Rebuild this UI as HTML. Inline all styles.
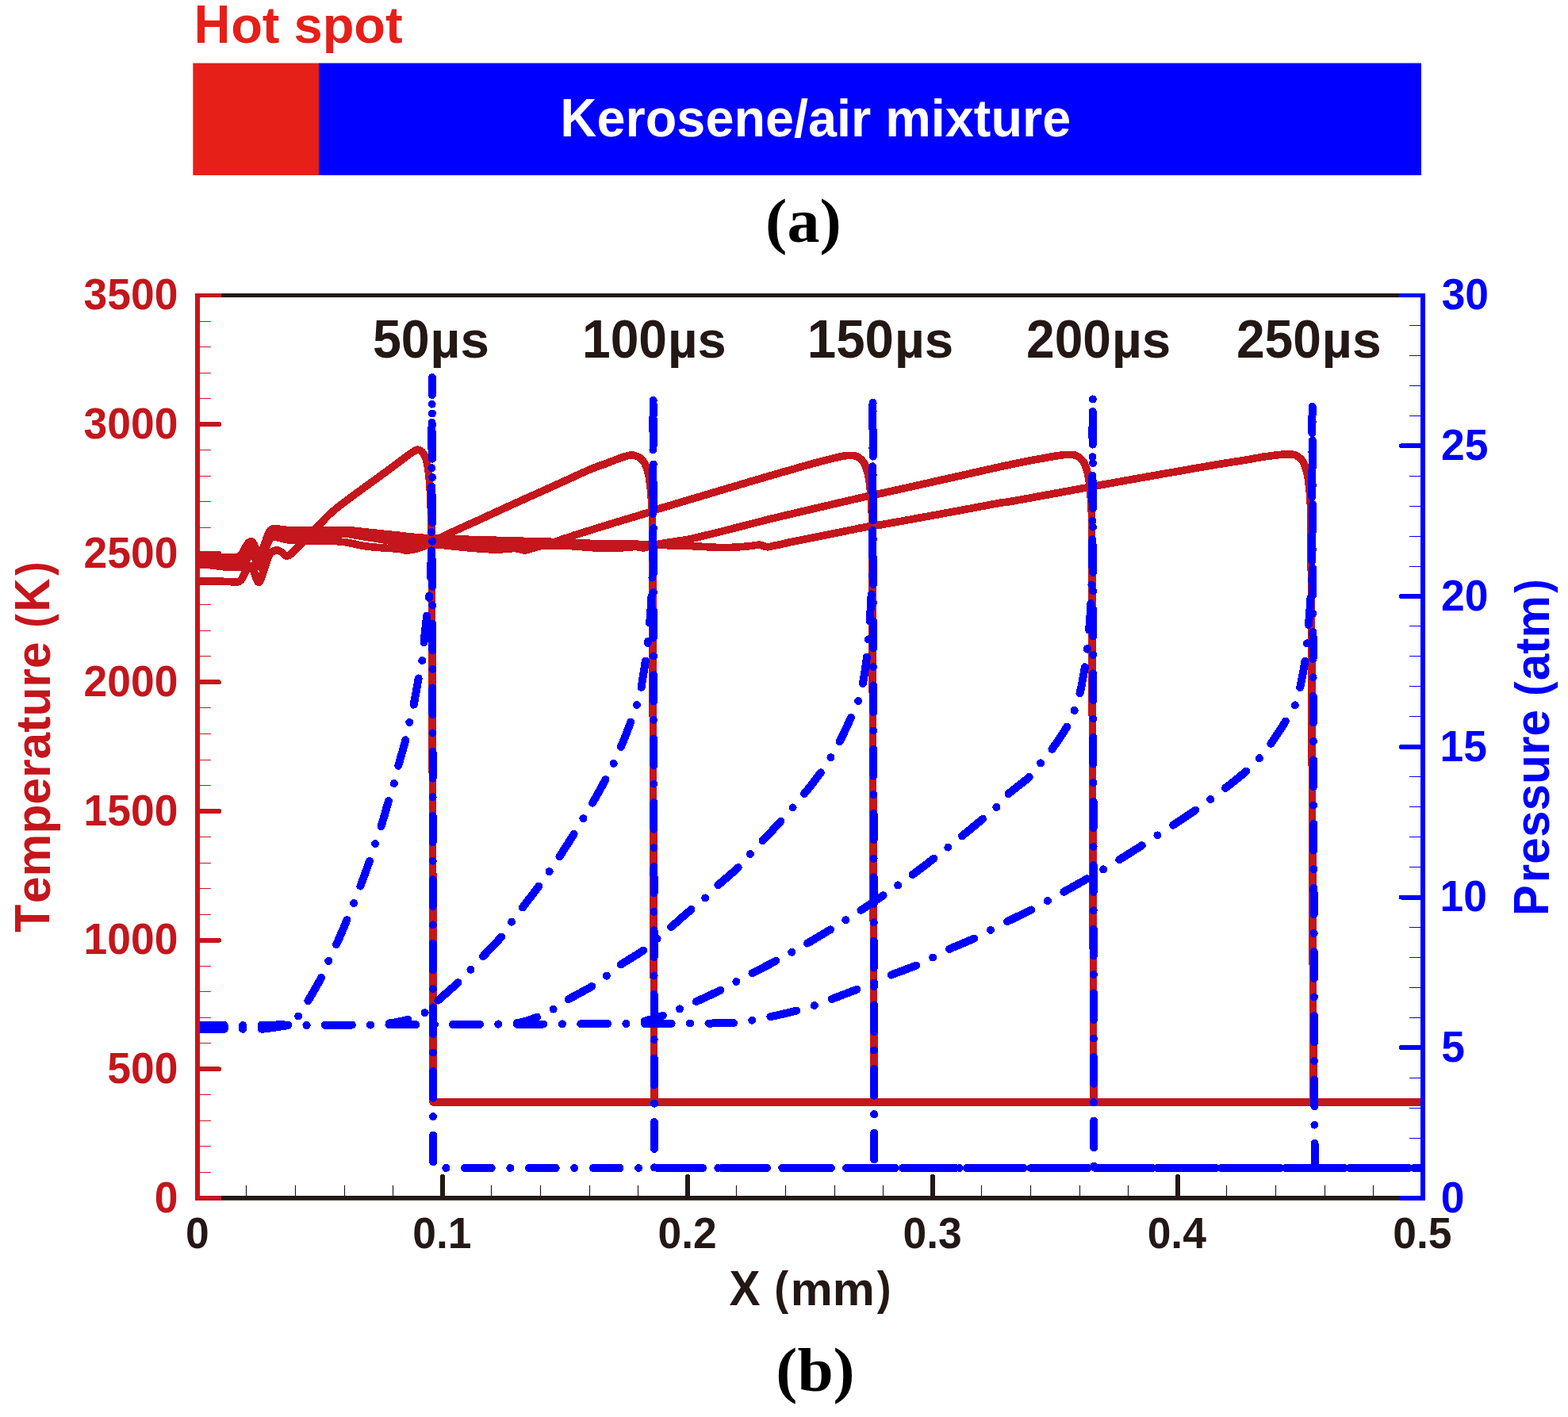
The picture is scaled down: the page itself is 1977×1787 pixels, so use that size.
<!DOCTYPE html>
<html lang="en">
<head>
<meta charset="utf-8">
<title>Hot spot ignition of kerosene/air mixture</title>
<style>
html,body{margin:0;padding:0;background:#fff;}
body{width:1977px;height:1787px;overflow:hidden;}
svg{display:block;}
text{font-kerning:none;white-space:pre;}
</style>
</head>
<body>
<svg width="1977" height="1787" viewBox="0 0 1977 1787">
<rect width="1977" height="1787" fill="#ffffff"/>
<svg x="249.0" y="372.6" width="1545.0" height="1138.3" viewBox="249.0 372.6 1545.0 1138.3" overflow="hidden">
<g shape-rendering="crispEdges" fill="none" stroke="#c4161c" stroke-width="9.6" stroke-linejoin="round" stroke-linecap="butt">
<path d="M249.0,733.0 L250.7,733.0 L252.9,733.0 L255.6,733.0 L258.6,733.0 L261.6,733.0 L264.7,733.0 L267.5,733.0 L270.0,733.0 L272.2,733.0 L274.3,733.1 L276.2,733.1 L278.1,733.2 L279.9,733.2 L281.7,733.3 L283.4,733.3 L285.0,733.4 L286.6,733.5 L288.2,733.5 L289.7,733.6 L291.1,733.7 L292.5,733.8 L293.8,733.8 L294.9,733.9 L296.0,733.9 L296.9,733.9 L297.7,733.9 L298.4,734.0 L298.9,733.9 L299.5,733.9 L300.0,733.8 L300.5,733.7 L301.0,733.5 L301.5,733.2 L302.1,732.9 L302.6,732.6 L303.1,732.2 L303.5,731.8 L304.0,731.3 L304.5,730.7 L305.0,730.0 L305.5,729.2 L306.0,728.3 L306.5,727.3 L307.0,726.2 L307.5,725.1 L308.0,724.0 L308.5,723.0 L309.0,722.0 L309.5,721.1 L309.9,720.2 L310.4,719.2 L310.8,718.4 L311.3,717.5 L311.7,716.8 L312.1,716.1 L312.5,715.5 L312.9,715.0 L313.2,714.6 L313.6,714.3 L313.9,714.1 L314.2,713.9 L314.5,713.8 L314.9,713.8 L315.2,713.8 L315.5,713.9 L315.9,714.0 L316.2,714.1 L316.6,714.4 L316.9,714.7 L317.3,715.0 L317.6,715.5 L318.0,716.0 L318.4,716.6 L318.7,717.4 L319.1,718.2 L319.5,719.1 L319.9,720.1 L320.3,721.1 L320.6,722.0 L321.0,723.0 L321.4,724.0 L321.7,725.0 L322.1,726.1 L322.4,727.2 L322.8,728.3 L323.1,729.3 L323.5,730.2 L323.8,731.0 L324.1,731.7 L324.4,732.3 L324.7,732.9 L325.0,733.4 L325.3,733.8 L325.6,734.1 L325.9,734.3 L326.2,734.4 L326.5,734.4 L326.8,734.2 L327.1,733.9 L327.3,733.5 L327.6,733.0 L327.9,732.5 L328.1,732.0 L328.4,731.5 L328.6,731.0 L328.9,730.5 L329.1,729.9 L329.3,729.3 L329.5,728.7 L329.7,728.0 L330.0,727.3 L330.2,726.6 L330.5,725.8 L330.7,725.0 L331.0,724.1 L331.3,723.2 L331.6,722.3 L331.9,721.3 L332.2,720.4 L332.5,719.5 L332.8,718.6 L333.1,717.7 L333.4,716.8 L333.7,715.9 L334.0,715.0 L334.3,714.1 L334.6,713.2 L334.9,712.3 L335.2,711.4 L335.5,710.5 L335.8,709.6 L336.1,708.7 L336.4,707.8 L336.7,706.9 L337.0,706.0 L337.3,705.2 L337.6,704.4 L337.9,703.6 L338.2,702.9 L338.6,702.1 L338.9,701.4 L339.2,700.8 L339.6,700.1 L340.0,699.5 L340.4,698.9 L340.9,698.3 L341.3,697.8 L341.8,697.3 L342.3,696.8 L342.9,696.4 L343.4,696.0 L344.0,695.6 L344.6,695.3 L345.3,694.9 L346.0,694.7 L346.7,694.4 L347.4,694.2 L348.1,694.1 L348.8,694.0 L349.5,694.0 L350.2,694.1 L350.9,694.3 L351.7,694.5 L352.4,694.9 L353.1,695.2 L353.8,695.6 L354.4,696.0 L355.0,696.3 L355.5,696.6 L356.0,697.0 L356.5,697.4 L356.9,697.8 L357.3,698.2 L357.7,698.6 L358.1,699.0 L358.5,699.3 L358.9,699.6 L359.3,699.9 L359.6,700.2 L359.9,700.5 L360.3,700.7 L360.6,700.9 L361.0,701.0 L361.4,701.1 L361.8,701.1 L362.2,701.1 L362.6,701.0 L363.1,700.9 L363.5,700.8 L364.0,700.6 L364.5,700.3 L365.0,700.0 L365.5,699.6 L366.0,699.2 L366.6,698.8 L367.1,698.3 L367.7,697.7 L368.4,697.1 L369.1,696.4 L370.0,695.5 L370.9,694.6 L371.9,693.6 L372.9,692.6 L374.1,691.5 L375.3,690.2 L376.7,688.8 L378.2,687.2 L380.0,685.4 L382.0,683.3 L384.3,680.9 L386.8,678.3 L389.4,675.6 L392.1,672.7 L394.8,669.9 L397.4,667.1 L400.0,664.5 L402.5,661.9 L405.0,659.4 L407.5,656.8 L410.0,654.2 L412.5,651.7 L415.0,649.2 L417.5,646.9 L420.0,644.6 L422.5,642.4 L425.0,640.4 L427.5,638.4 L430.0,636.5 L432.5,634.6 L435.0,632.7 L437.5,630.9 L440.0,629.0 L442.5,627.1 L445.0,625.3 L447.5,623.4 L450.0,621.6 L452.5,619.8 L455.0,617.9 L457.5,616.1 L460.0,614.3 L462.5,612.5 L465.0,610.7 L467.5,608.9 L470.0,607.1 L472.5,605.3 L475.0,603.4 L477.5,601.6 L480.0,599.8 L482.6,597.9 L485.2,596.0 L487.9,594.0 L490.5,592.1 L493.1,590.1 L495.6,588.3 L497.9,586.6 L500.0,585.0 L501.9,583.6 L503.7,582.2 L505.3,581.0 L506.8,579.9 L508.2,578.8 L509.5,577.8 L510.8,576.9 L512.0,576.0 L513.1,575.2 L514.2,574.4 L515.1,573.7 L516.0,573.1 L516.8,572.5 L517.6,572.0 L518.3,571.5 L519.0,571.0 L519.6,570.6 L520.2,570.1 L520.7,569.8 L521.2,569.5 L521.7,569.2 L522.1,568.9 L522.5,568.6 L523.0,568.4 L523.5,568.2 L523.9,567.9 L524.3,567.8 L524.7,567.6 L525.1,567.4 L525.5,567.3 L526.0,567.2 L526.4,567.2 L526.8,567.2 L527.3,567.2 L527.7,567.3 L528.2,567.4 L528.7,567.6 L529.1,567.7 L529.6,568.0 L530.0,568.2 L530.4,568.5 L530.9,568.8 L531.3,569.2 L531.8,569.5 L532.2,570.0 L532.6,570.4 L533.0,570.9 L533.4,571.4 L533.8,571.9 L534.2,572.5 L534.5,573.1 L534.9,573.7 L535.2,574.3 L535.6,575.0 L535.9,575.7 L536.2,576.5 L536.5,577.3 L536.8,578.1 L537.1,578.9 L537.4,579.8 L537.6,580.8 L537.9,581.8 L538.1,582.8 L538.4,584.0 L538.7,585.3 L538.9,586.6 L539.2,588.1 L539.4,589.6 L539.7,591.2 L539.9,592.8 L540.2,594.4 L540.4,596.0 L540.6,597.6 L540.8,599.3 L541.0,600.9 L541.2,602.6 L541.3,604.4 L541.5,606.2 L541.6,608.0 L541.8,610.0 L541.9,612.0 L542.1,614.1 L542.2,616.3 L542.3,618.5 L542.5,620.8 L542.6,623.1 L542.7,625.5 L542.8,628.0 L542.9,630.5 L543.0,633.0 L543.1,635.6 L543.2,638.2 L543.3,641.0 L543.4,643.8 L543.5,646.8 L543.6,650.0 L543.7,652.8 L543.8,654.8 L543.8,656.7 L543.9,658.9 L544.0,661.8 L544.1,666.0 L544.1,671.9 L544.2,680.0 L544.3,690.1 L544.4,701.8 L544.4,714.9 L544.5,729.4 L544.6,745.2 L544.6,762.3 L544.7,780.6 L544.8,800.0 L544.9,821.2 L544.9,844.4 L545.0,869.1 L545.1,895.0 L545.2,921.5 L545.2,948.1 L545.3,974.5 L545.4,1000.0 L545.5,1025.1 L545.6,1050.4 L545.6,1075.8 L545.7,1101.1 L545.8,1126.3 L545.9,1151.3 L545.9,1175.9 L546.0,1200.0 L546.0,1224.9 L546.1,1251.0 L546.1,1277.6 L546.1,1303.5 L546.2,1327.9 L546.2,1349.7 L546.2,1368.1 L546.2,1382.0 L546.2,1390.0 L1804.0,1390.0"/>
<path d="M249.0,712.0 L250.0,712.0 L251.3,712.0 L252.9,712.0 L254.7,712.0 L256.6,712.1 L258.4,712.1 L260.3,712.2 L262.0,712.3 L263.6,712.5 L265.3,712.6 L267.0,712.9 L268.7,713.1 L270.3,713.4 L272.0,713.6 L273.5,713.8 L275.0,714.0 L276.3,714.2 L277.5,714.3 L278.6,714.4 L279.7,714.6 L280.8,714.7 L282.0,714.8 L283.4,714.8 L285.0,714.9 L286.9,714.9 L289.2,715.0 L291.6,715.0 L294.1,715.0 L296.6,715.0 L298.9,715.0 L300.9,714.9 L302.5,714.9 L303.7,714.9 L304.5,714.9 L305.0,714.9 L305.4,714.9 L305.7,714.9 L305.9,714.8 L306.1,714.6 L306.5,714.4 L306.9,714.1 L307.3,713.7 L307.7,713.2 L308.0,712.7 L308.4,712.2 L308.7,711.6 L309.1,711.0 L309.4,710.3 L309.8,709.6 L310.1,708.8 L310.5,707.9 L310.8,707.0 L311.1,706.1 L311.5,705.3 L311.8,704.4 L312.1,703.7 L312.4,703.0 L312.7,702.3 L313.0,701.7 L313.3,701.0 L313.6,700.5 L313.9,700.0 L314.2,699.5 L314.5,699.1 L314.7,698.8 L315.0,698.5 L315.3,698.3 L315.5,698.1 L315.8,698.0 L316.0,697.9 L316.3,697.9 L316.6,697.9 L316.8,697.9 L317.1,698.0 L317.4,698.1 L317.6,698.2 L317.9,698.4 L318.2,698.6 L318.5,698.9 L318.8,699.2 L319.1,699.6 L319.4,700.0 L319.7,700.5 L320.0,701.0 L320.4,701.6 L320.7,702.2 L321.0,702.8 L321.3,703.4 L321.6,704.1 L321.9,704.9 L322.2,705.7 L322.5,706.6 L322.8,707.4 L323.1,708.2 L323.3,709.0 L323.6,709.7 L323.9,710.3 L324.1,710.8 L324.4,711.4 L324.6,711.9 L324.8,712.4 L325.1,712.8 L325.3,713.2 L325.5,713.5 L325.7,713.8 L325.9,714.1 L326.0,714.3 L326.2,714.4 L326.4,714.6 L326.5,714.7 L326.7,714.7 L326.9,714.7 L327.1,714.7 L327.3,714.7 L327.5,714.6 L327.7,714.5 L327.9,714.3 L328.1,714.0 L328.4,713.6 L328.6,713.0 L328.9,712.2 L329.1,711.3 L329.4,710.2 L329.7,709.0 L330.0,707.7 L330.3,706.4 L330.6,705.1 L331.0,703.9 L331.4,702.7 L331.8,701.4 L332.3,700.1 L332.8,698.8 L333.2,697.5 L333.7,696.3 L334.1,695.1 L334.5,694.0 L334.9,693.0 L335.2,692.0 L335.5,691.1 L335.8,690.2 L336.0,689.4 L336.3,688.5 L336.6,687.7 L336.9,686.9 L337.2,686.1 L337.5,685.3 L337.8,684.4 L338.2,683.7 L338.5,682.9 L338.8,682.2 L339.2,681.5 L339.5,680.9 L339.9,680.4 L340.2,679.9 L340.6,679.4 L340.9,679.0 L341.3,678.7 L341.7,678.3 L342.1,678.1 L342.5,677.8 L342.9,677.6 L343.3,677.4 L343.6,677.3 L344.0,677.2 L344.4,677.1 L344.9,677.1 L345.4,677.1 L346.0,677.1 L346.7,677.2 L347.4,677.3 L348.1,677.5 L349.0,677.6 L349.9,677.9 L350.8,678.1 L351.9,678.3 L353.0,678.6 L354.2,678.9 L355.3,679.2 L356.6,679.5 L357.9,679.9 L359.3,680.2 L361.0,680.6 L362.8,680.8 L365.0,681.1 L367.5,681.3 L370.2,681.5 L373.2,681.7 L376.4,681.8 L379.7,681.9 L383.1,682.0 L386.5,682.1 L390.0,682.2 L393.6,682.3 L397.6,682.3 L401.6,682.3 L405.8,682.4 L409.8,682.4 L413.6,682.4 L417.0,682.4 L420.0,682.5 L422.5,682.6 L424.5,682.7 L426.3,682.8 L427.8,682.9 L429.1,683.1 L430.3,683.2 L431.5,683.4 L432.8,683.5 L434.0,683.6 L434.9,683.7 L435.7,683.8 L436.5,684.0 L437.3,684.1 L438.2,684.3 L439.4,684.5 L441.0,684.8 L442.9,685.2 L445.2,685.7 L447.6,686.2 L450.3,686.8 L453.0,687.3 L455.7,687.9 L458.4,688.4 L461.0,688.8 L463.5,689.1 L466.0,689.5 L468.5,689.7 L471.0,690.0 L473.5,690.2 L476.0,690.4 L478.5,690.6 L481.0,690.8 L483.6,691.0 L486.4,691.2 L489.1,691.4 L491.9,691.5 L494.6,691.7 L497.2,691.8 L499.5,692.0 L501.6,692.2 L503.4,692.4 L504.9,692.7 L506.1,692.9 L507.3,693.2 L508.4,693.4 L509.4,693.7 L510.5,693.8 L511.7,693.9 L513.0,693.9 L514.3,693.9 L515.6,693.8 L516.9,693.7 L518.2,693.5 L519.4,693.4 L520.7,693.1 L522.0,692.9 L523.3,692.6 L524.6,692.3 L525.9,691.9 L527.2,691.5 L528.5,691.0 L529.7,690.6 L530.9,690.2 L532.0,689.8 L533.0,689.4 L534.0,689.1 L534.8,688.7 L535.7,688.3 L536.5,688.0 L537.3,687.6 L538.1,687.2 L539.0,686.8 L539.8,686.4 L540.6,686.1 L541.3,685.7 L542.0,685.4 L542.8,685.0 L543.7,684.5 L544.7,684.0 L546.0,683.3 L547.3,682.6 L548.6,681.8 L550.0,681.0 L551.5,680.1 L553.3,679.1 L555.4,678.0 L557.9,676.7 L561.0,675.2 L564.7,673.5 L568.8,671.6 L573.4,669.5 L578.3,667.3 L583.5,664.9 L588.9,662.5 L594.4,660.0 L600.0,657.5 L605.7,654.9 L611.7,652.1 L617.9,649.2 L624.3,646.3 L630.8,643.3 L637.2,640.3 L643.7,637.4 L650.0,634.5 L656.3,631.7 L662.6,628.8 L668.9,625.9 L675.3,623.1 L681.6,620.3 L687.8,617.5 L694.0,614.7 L700.0,612.0 L706.1,609.2 L712.3,606.4 L718.6,603.5 L724.7,600.7 L730.6,598.0 L736.1,595.5 L741.1,593.3 L745.5,591.4 L749.2,589.9 L752.3,588.7 L754.9,587.7 L757.1,587.0 L759.0,586.4 L760.6,585.8 L762.2,585.3 L763.7,584.8 L765.0,584.3 L766.1,583.9 L766.8,583.6 L767.5,583.3 L768.0,583.1 L768.5,582.9 L769.0,582.6 L769.7,582.4 L770.5,582.1 L771.2,581.8 L772.0,581.5 L772.7,581.2 L773.5,580.9 L774.2,580.6 L775.0,580.3 L775.7,580.0 L776.5,579.7 L777.2,579.4 L778.0,579.1 L778.8,578.8 L779.5,578.6 L780.3,578.3 L781.0,578.0 L781.7,577.8 L782.4,577.5 L783.0,577.3 L783.7,577.1 L784.3,576.9 L784.9,576.7 L785.5,576.5 L786.1,576.3 L786.7,576.1 L787.3,575.9 L787.9,575.7 L788.5,575.6 L789.0,575.4 L789.6,575.2 L790.2,575.1 L790.7,575.0 L791.2,574.8 L791.7,574.7 L792.2,574.6 L792.6,574.5 L793.0,574.4 L793.5,574.3 L793.9,574.3 L794.3,574.2 L794.7,574.1 L795.1,574.1 L795.4,574.0 L795.7,573.9 L795.9,573.8 L796.2,573.8 L796.6,573.7 L797.1,573.8 L797.7,573.9 L798.5,574.1 L799.4,574.3 L800.4,574.6 L801.5,575.0 L802.6,575.3 L803.7,575.7 L804.7,576.1 L805.5,576.5 L806.2,576.9 L806.9,577.3 L807.5,577.8 L808.0,578.2 L808.5,578.7 L809.0,579.2 L809.4,579.7 L809.9,580.2 L810.4,580.7 L810.8,581.3 L811.2,581.8 L811.6,582.4 L812.0,582.9 L812.4,583.5 L812.8,584.1 L813.1,584.7 L813.4,585.3 L813.7,585.9 L813.9,586.6 L814.2,587.2 L814.4,587.9 L814.6,588.6 L814.9,589.2 L815.1,589.9 L815.3,590.6 L815.6,591.2 L815.8,591.9 L816.0,592.5 L816.2,593.2 L816.5,593.9 L816.7,594.6 L816.9,595.4 L817.1,596.2 L817.3,597.1 L817.5,598.0 L817.7,598.9 L817.9,599.9 L818.1,600.9 L818.3,601.9 L818.5,602.9 L818.7,603.9 L818.8,605.0 L819.0,606.1 L819.1,607.2 L819.3,608.4 L819.4,609.5 L819.6,610.7 L819.7,611.9 L819.8,613.1 L820.0,614.4 L820.1,615.6 L820.3,616.9 L820.4,618.2 L820.6,619.4 L820.7,620.7 L820.8,621.9 L820.9,623.1 L821.0,624.2 L821.1,625.4 L821.1,626.5 L821.2,627.6 L821.3,628.7 L821.3,629.8 L821.4,630.9 L821.5,632.0 L821.5,633.0 L821.6,634.0 L821.7,635.0 L821.7,636.0 L821.8,637.0 L821.8,638.0 L821.9,638.9 L821.9,639.8 L822.0,640.6 L822.0,641.5 L822.1,642.3 L822.1,643.1 L822.1,644.0 L822.2,644.9 L822.2,645.9 L822.2,645.6 L822.3,643.3 L822.3,640.3 L822.3,637.7 L822.4,636.8 L822.4,638.7 L822.4,644.7 L822.5,655.9 L822.6,672.9 L822.6,694.9 L822.7,720.8 L822.8,749.6 L822.9,780.3 L823.0,811.8 L823.1,843.3 L823.2,873.7 L823.3,903.8 L823.4,934.7 L823.5,966.4 L823.6,998.5 L823.7,1031.0 L823.8,1063.5 L823.9,1095.8 L824.0,1127.9 L824.1,1161.4 L824.2,1197.4 L824.3,1234.3 L824.4,1270.8 L824.6,1305.3 L824.7,1336.3 L824.7,1362.4 L824.8,1382.0 L824.8,1394.8"/>
<path d="M249.0,708.0 L250.0,708.0 L251.3,708.0 L252.9,708.0 L254.7,708.0 L256.6,708.1 L258.4,708.1 L260.3,708.2 L262.0,708.3 L263.6,708.5 L265.3,708.6 L267.0,708.9 L268.7,709.1 L270.3,709.4 L272.0,709.6 L273.5,709.8 L275.0,710.0 L276.4,710.2 L277.6,710.3 L278.7,710.4 L279.8,710.6 L281.0,710.7 L282.2,710.8 L283.5,710.8 L285.0,710.9 L286.8,710.9 L288.8,711.0 L290.9,711.0 L293.1,711.0 L295.3,711.0 L297.3,711.0 L299.1,710.9 L300.5,710.9 L301.6,710.9 L302.3,710.9 L302.9,710.9 L303.2,710.9 L303.5,710.9 L303.8,710.8 L304.1,710.6 L304.5,710.4 L305.0,710.0 L305.4,709.6 L305.9,709.1 L306.3,708.6 L306.7,708.0 L307.2,707.4 L307.6,706.7 L308.0,706.0 L308.4,705.3 L308.9,704.4 L309.3,703.5 L309.7,702.6 L310.1,701.6 L310.5,700.7 L310.9,699.8 L311.3,699.0 L311.7,698.3 L312.0,697.6 L312.4,696.9 L312.7,696.2 L313.1,695.6 L313.4,695.1 L313.8,694.6 L314.1,694.2 L314.4,693.8 L314.7,693.5 L315.0,693.3 L315.3,693.1 L315.6,693.0 L315.9,693.0 L316.2,692.9 L316.4,692.9 L316.7,692.9 L317.0,693.0 L317.3,693.1 L317.6,693.2 L317.9,693.4 L318.2,693.6 L318.5,693.9 L318.8,694.2 L319.1,694.6 L319.4,695.0 L319.7,695.5 L320.1,696.0 L320.4,696.6 L320.7,697.2 L321.0,697.8 L321.3,698.4 L321.6,699.1 L321.9,699.9 L322.2,700.7 L322.5,701.6 L322.8,702.4 L323.1,703.2 L323.3,704.0 L323.6,704.7 L323.9,705.3 L324.1,705.8 L324.4,706.4 L324.6,706.9 L324.8,707.4 L325.1,707.8 L325.3,708.2 L325.5,708.5 L325.7,708.8 L325.9,709.1 L326.0,709.3 L326.2,709.4 L326.4,709.6 L326.5,709.7 L326.7,709.7 L326.9,709.7 L327.1,709.7 L327.3,709.6 L327.5,709.6 L327.7,709.4 L327.9,709.2 L328.1,708.9 L328.4,708.5 L328.6,708.0 L328.9,707.3 L329.1,706.5 L329.4,705.6 L329.7,704.5 L330.0,703.4 L330.3,702.3 L330.6,701.1 L331.0,699.9 L331.4,698.6 L331.8,697.3 L332.3,695.8 L332.8,694.3 L333.2,692.9 L333.7,691.4 L334.1,690.1 L334.5,688.9 L334.9,687.8 L335.2,686.8 L335.5,685.9 L335.8,685.0 L336.0,684.2 L336.3,683.4 L336.6,682.6 L336.9,681.8 L337.2,681.0 L337.5,680.2 L337.8,679.3 L338.2,678.5 L338.5,677.8 L338.8,677.1 L339.2,676.4 L339.5,675.8 L339.9,675.3 L340.2,674.8 L340.6,674.3 L340.9,673.9 L341.3,673.6 L341.7,673.2 L342.1,673.0 L342.5,672.7 L342.9,672.5 L343.3,672.3 L343.6,672.2 L344.0,672.1 L344.4,672.1 L344.9,672.0 L345.4,672.0 L346.0,672.0 L346.7,672.0 L347.4,672.1 L348.1,672.1 L349.0,672.2 L349.9,672.3 L350.8,672.4 L351.9,672.5 L353.0,672.6 L354.1,672.7 L355.1,672.8 L356.1,673.0 L357.2,673.1 L358.6,673.2 L360.3,673.3 L362.4,673.4 L365.0,673.5 L368.3,673.6 L372.4,673.6 L376.9,673.6 L381.7,673.6 L386.6,673.6 L391.4,673.6 L395.9,673.6 L400.0,673.6 L403.7,673.6 L407.4,673.6 L410.9,673.6 L414.2,673.5 L417.3,673.5 L420.2,673.5 L422.8,673.4 L425.0,673.4 L426.8,673.3 L428.0,673.2 L428.9,673.1 L429.6,673.0 L430.2,672.9 L430.9,672.9 L431.7,672.9 L432.8,672.9 L434.2,673.0 L435.7,673.2 L437.3,673.3 L439.0,673.6 L440.8,673.8 L442.5,674.1 L444.3,674.3 L446.0,674.6 L447.6,674.9 L449.1,675.1 L450.6,675.4 L452.0,675.6 L453.7,675.9 L455.5,676.2 L457.6,676.6 L460.0,677.0 L463.0,677.5 L466.5,678.0 L470.4,678.6 L474.4,679.3 L478.4,679.9 L482.2,680.5 L485.7,681.0 L488.5,681.5 L490.7,681.9 L492.5,682.2 L494.0,682.4 L495.2,682.6 L496.3,682.8 L497.4,683.0 L498.6,683.2 L500.0,683.4 L501.5,683.6 L503.0,683.8 L504.5,684.0 L506.0,684.2 L507.6,684.4 L509.3,684.6 L511.1,684.8 L513.0,685.0 L515.1,685.2 L517.4,685.3 L519.7,685.5 L522.2,685.7 L524.7,685.8 L527.2,686.0 L529.6,686.1 L532.0,686.2 L534.3,686.3 L536.5,686.4 L538.7,686.4 L540.9,686.5 L543.1,686.5 L545.4,686.6 L547.7,686.7 L550.0,686.8 L552.4,687.0 L554.8,687.2 L557.3,687.4 L559.8,687.7 L562.4,688.0 L564.9,688.3 L567.5,688.5 L570.0,688.8 L572.5,689.0 L574.9,689.3 L577.3,689.5 L579.7,689.8 L582.2,690.0 L584.8,690.3 L587.6,690.5 L590.6,690.8 L593.9,691.1 L597.6,691.4 L601.6,691.7 L605.6,692.0 L609.6,692.3 L613.4,692.5 L616.9,692.8 L620.0,692.9 L622.7,693.0 L625.0,693.0 L627.2,693.0 L629.1,692.9 L630.9,692.9 L632.6,692.8 L634.3,692.7 L636.0,692.6 L637.7,692.5 L639.4,692.4 L641.0,692.2 L642.6,692.0 L644.0,691.9 L645.4,691.7 L646.8,691.6 L648.0,691.6 L649.1,691.6 L650.1,691.7 L651.0,691.8 L651.9,692.0 L652.7,692.1 L653.4,692.3 L654.2,692.4 L655.0,692.6 L655.8,692.8 L656.5,693.0 L657.3,693.2 L658.0,693.4 L658.7,693.6 L659.5,693.8 L660.2,693.9 L661.0,693.9 L661.8,693.9 L662.6,693.8 L663.3,693.6 L664.1,693.4 L665.0,693.2 L665.9,693.0 L666.9,692.7 L668.0,692.4 L669.3,692.1 L670.7,691.7 L672.2,691.2 L673.8,690.8 L675.4,690.3 L677.0,689.9 L678.6,689.4 L680.0,689.0 L681.3,688.6 L682.6,688.3 L683.9,687.9 L685.1,687.6 L686.3,687.2 L687.5,686.9 L688.8,686.6 L690.0,686.2 L691.2,685.9 L692.3,685.6 L693.3,685.3 L694.4,685.0 L695.5,684.6 L696.8,684.2 L698.3,683.8 L700.0,683.2 L701.9,682.6 L703.8,681.9 L705.9,681.2 L708.1,680.4 L710.6,679.5 L713.4,678.6 L716.5,677.6 L720.0,676.4 L723.9,675.1 L728.2,673.8 L732.9,672.3 L737.8,670.7 L743.0,669.1 L748.5,667.4 L754.1,665.6 L760.0,663.8 L766.5,661.8 L773.7,659.6 L781.4,657.3 L789.3,654.9 L796.9,652.6 L804.0,650.5 L810.3,648.6 L815.3,647.0 L818.6,645.9 L820.3,645.3 L821.0,645.0 L821.2,644.9 L821.5,644.7 L822.5,644.3 L824.8,643.5 L829.0,642.2 L835.1,640.3 L842.7,638.1 L851.4,635.5 L860.9,632.6 L870.8,629.7 L880.9,626.7 L890.7,623.8 L900.0,621.0 L909.1,618.3 L918.4,615.5 L927.9,612.7 L937.3,609.9 L946.5,607.2 L955.4,604.6 L963.9,602.1 L971.7,599.8 L979.1,597.7 L986.1,595.6 L992.9,593.7 L999.2,591.9 L1005.1,590.2 L1010.6,588.6 L1015.6,587.2 L1020.0,586.0 L1023.8,584.9 L1026.9,584.1 L1029.5,583.4 L1031.6,582.8 L1033.4,582.4 L1035.0,581.9 L1036.4,581.6 L1037.9,581.2 L1039.2,580.8 L1040.2,580.6 L1041.0,580.4 L1041.6,580.2 L1042.2,580.1 L1042.7,579.9 L1043.2,579.8 L1043.9,579.6 L1044.7,579.4 L1045.4,579.3 L1046.2,579.1 L1046.9,578.9 L1047.7,578.7 L1048.4,578.5 L1049.2,578.3 L1049.9,578.1 L1050.7,578.0 L1051.4,577.8 L1052.2,577.6 L1053.0,577.4 L1053.7,577.2 L1054.5,577.1 L1055.2,576.9 L1055.9,576.7 L1056.6,576.6 L1057.2,576.4 L1057.9,576.3 L1058.5,576.2 L1059.1,576.0 L1059.7,575.9 L1060.3,575.8 L1060.9,575.7 L1061.5,575.6 L1062.1,575.5 L1062.7,575.4 L1063.2,575.2 L1063.8,575.1 L1064.4,575.1 L1064.9,575.0 L1065.4,574.9 L1065.9,574.8 L1066.4,574.7 L1066.8,574.7 L1067.2,574.6 L1067.7,574.6 L1068.1,574.5 L1068.5,574.5 L1068.9,574.5 L1069.3,574.4 L1069.6,574.4 L1069.9,574.3 L1070.3,574.3 L1070.6,574.3 L1071.0,574.3 L1071.4,574.3 L1071.9,574.3 L1072.5,574.3 L1073.1,574.3 L1073.8,574.4 L1074.6,574.4 L1075.3,574.5 L1076.1,574.5 L1076.8,574.7 L1077.5,574.8 L1078.2,575.0 L1078.8,575.2 L1079.4,575.4 L1080.1,575.6 L1080.7,575.9 L1081.3,576.2 L1081.9,576.5 L1082.5,576.9 L1083.1,577.3 L1083.7,577.7 L1084.2,578.1 L1084.8,578.6 L1085.4,579.1 L1085.9,579.6 L1086.4,580.1 L1086.9,580.6 L1087.4,581.1 L1087.8,581.7 L1088.2,582.2 L1088.7,582.8 L1089.0,583.3 L1089.4,583.9 L1089.8,584.5 L1090.1,585.1 L1090.4,585.7 L1090.7,586.3 L1090.9,587.0 L1091.2,587.6 L1091.4,588.3 L1091.6,589.0 L1091.9,589.6 L1092.1,590.3 L1092.3,591.0 L1092.6,591.6 L1092.8,592.3 L1093.0,592.9 L1093.2,593.6 L1093.5,594.3 L1093.7,595.0 L1093.9,595.8 L1094.1,596.6 L1094.3,597.5 L1094.5,598.4 L1094.7,599.3 L1094.9,600.3 L1095.1,601.3 L1095.3,602.3 L1095.5,603.3 L1095.7,604.3 L1095.8,605.4 L1096.0,606.5 L1096.1,607.6 L1096.3,608.8 L1096.4,609.9 L1096.6,611.1 L1096.7,612.3 L1096.8,613.5 L1097.0,614.8 L1097.1,616.0 L1097.3,617.3 L1097.4,618.6 L1097.6,619.8 L1097.7,621.1 L1097.8,622.3 L1097.9,623.5 L1098.0,624.6 L1098.1,625.8 L1098.1,626.9 L1098.2,628.0 L1098.3,629.1 L1098.3,630.2 L1098.4,631.3 L1098.5,632.4 L1098.5,633.4 L1098.6,634.4 L1098.7,635.4 L1098.7,636.4 L1098.8,637.4 L1098.8,638.4 L1098.9,639.3 L1098.9,640.2 L1099.0,641.0 L1099.0,641.9 L1099.1,642.7 L1099.1,643.5 L1099.1,644.4 L1099.2,645.3 L1099.2,646.3 L1099.2,646.0 L1099.3,643.7 L1099.3,640.7 L1099.3,638.1 L1099.4,637.2 L1099.4,639.1 L1099.4,645.1 L1099.5,656.3 L1099.6,673.3 L1099.7,695.3 L1099.8,721.1 L1099.9,749.9 L1100.0,780.6 L1100.1,812.2 L1100.2,843.6 L1100.3,874.0 L1100.4,904.0 L1100.5,935.0 L1100.6,966.6 L1100.7,998.7 L1100.8,1031.2 L1101.0,1063.7 L1101.1,1096.0 L1101.2,1128.0 L1101.3,1161.5 L1101.4,1197.5 L1101.6,1234.4 L1101.7,1270.9 L1101.8,1305.4 L1101.9,1336.4 L1102.0,1362.4 L1102.1,1382.0 L1102.1,1394.8"/>
<path d="M249.0,704.0 L250.0,704.0 L251.3,704.0 L252.9,704.0 L254.7,704.0 L256.6,704.1 L258.4,704.1 L260.3,704.2 L262.0,704.3 L263.6,704.5 L265.3,704.6 L267.0,704.9 L268.7,705.1 L270.3,705.4 L272.0,705.6 L273.5,705.8 L275.0,706.0 L276.4,706.2 L277.6,706.3 L278.8,706.4 L280.0,706.6 L281.1,706.7 L282.3,706.8 L283.6,706.8 L285.0,706.9 L286.6,706.9 L288.4,707.0 L290.2,707.0 L292.1,707.0 L294.0,707.0 L295.7,707.0 L297.2,706.9 L298.5,706.9 L299.5,706.9 L300.2,706.9 L300.7,706.9 L301.1,706.9 L301.4,706.9 L301.7,706.8 L302.1,706.6 L302.5,706.3 L303.0,706.0 L303.5,705.5 L304.0,705.0 L304.6,704.5 L305.1,703.9 L305.6,703.2 L306.1,702.5 L306.6,701.8 L307.1,701.0 L307.6,700.1 L308.1,699.1 L308.6,698.1 L309.1,697.1 L309.5,696.1 L310.0,695.2 L310.4,694.4 L310.9,693.6 L311.3,692.8 L311.7,692.1 L312.2,691.4 L312.6,690.8 L313.0,690.2 L313.4,689.7 L313.7,689.2 L314.1,688.9 L314.4,688.6 L314.8,688.3 L315.1,688.2 L315.4,688.0 L315.7,688.0 L316.0,687.9 L316.3,687.9 L316.7,687.9 L317.0,688.0 L317.3,688.1 L317.6,688.2 L317.9,688.4 L318.2,688.6 L318.5,688.9 L318.8,689.2 L319.1,689.6 L319.4,690.1 L319.7,690.6 L320.1,691.2 L320.4,691.8 L320.7,692.4 L321.0,693.1 L321.3,693.8 L321.6,694.5 L321.9,695.3 L322.2,696.2 L322.5,697.1 L322.8,698.0 L323.1,698.8 L323.3,699.6 L323.6,700.4 L323.9,701.0 L324.1,701.6 L324.4,702.2 L324.6,702.8 L324.8,703.3 L325.1,703.7 L325.3,704.1 L325.5,704.5 L325.7,704.8 L325.9,705.1 L326.0,705.3 L326.2,705.5 L326.4,705.6 L326.5,705.7 L326.7,705.7 L326.9,705.7 L327.1,705.7 L327.3,705.6 L327.5,705.5 L327.7,705.4 L327.9,705.2 L328.1,704.9 L328.4,704.5 L328.6,704.0 L328.9,703.4 L329.1,702.6 L329.4,701.8 L329.7,700.9 L330.0,699.9 L330.3,698.9 L330.6,697.8 L331.0,696.7 L331.4,695.5 L331.8,694.3 L332.3,692.9 L332.8,691.5 L333.2,690.2 L333.7,688.8 L334.1,687.6 L334.5,686.4 L334.9,685.4 L335.2,684.4 L335.5,683.5 L335.8,682.6 L336.0,681.7 L336.3,680.9 L336.6,680.1 L336.9,679.3 L337.2,678.5 L337.5,677.7 L337.8,676.8 L338.2,676.0 L338.5,675.3 L338.8,674.6 L339.2,673.9 L339.5,673.3 L339.9,672.8 L340.2,672.3 L340.6,671.8 L340.9,671.4 L341.3,671.1 L341.7,670.7 L342.1,670.5 L342.5,670.2 L342.9,670.0 L343.3,669.8 L343.6,669.7 L344.0,669.6 L344.4,669.6 L344.9,669.5 L345.4,669.5 L346.0,669.5 L346.7,669.5 L347.4,669.5 L348.1,669.6 L349.0,669.7 L349.9,669.8 L350.8,669.8 L351.9,669.9 L353.0,670.0 L353.9,670.1 L354.3,670.1 L354.7,670.2 L355.2,670.3 L356.2,670.3 L357.9,670.4 L360.8,670.5 L365.0,670.5 L371.1,670.5 L379.0,670.5 L388.2,670.4 L398.1,670.3 L408.0,670.3 L417.6,670.3 L426.1,670.3 L433.0,670.5 L438.3,670.8 L442.6,671.1 L446.1,671.6 L449.0,672.0 L451.6,672.5 L454.1,673.0 L456.8,673.5 L460.0,674.0 L463.5,674.4 L467.1,674.9 L470.8,675.4 L474.4,675.8 L478.0,676.3 L481.6,676.7 L485.1,677.1 L488.5,677.5 L491.7,677.9 L494.8,678.2 L497.8,678.5 L500.8,678.8 L503.7,679.1 L506.7,679.4 L509.8,679.7 L513.0,680.0 L516.3,680.3 L519.7,680.6 L523.2,681.0 L526.7,681.3 L530.3,681.6 L533.8,681.9 L537.4,682.2 L541.0,682.5 L544.4,682.8 L547.7,683.0 L550.8,683.3 L554.1,683.5 L557.5,683.8 L561.2,684.0 L565.3,684.3 L570.0,684.5 L575.4,684.8 L581.6,685.0 L588.2,685.3 L595.1,685.6 L602.1,685.8 L608.9,686.1 L615.2,686.3 L621.0,686.5 L626.1,686.7 L630.7,686.8 L634.9,687.0 L638.9,687.1 L642.9,687.2 L647.0,687.3 L651.3,687.4 L656.0,687.5 L661.2,687.6 L666.9,687.7 L672.9,687.8 L678.9,687.9 L684.9,688.0 L690.5,688.1 L695.6,688.2 L700.0,688.3 L703.6,688.3 L706.6,688.4 L709.0,688.4 L711.2,688.4 L713.2,688.4 L715.2,688.4 L717.4,688.5 L720.0,688.6 L722.9,688.8 L725.9,689.0 L729.0,689.3 L732.2,689.6 L735.4,689.8 L738.6,690.1 L741.8,690.4 L745.0,690.6 L748.2,690.8 L751.4,691.0 L754.6,691.1 L757.8,691.3 L761.0,691.4 L764.1,691.5 L767.1,691.6 L770.0,691.6 L772.8,691.6 L775.6,691.4 L778.3,691.3 L780.9,691.1 L783.5,690.9 L785.8,690.7 L788.0,690.5 L790.0,690.4 L791.8,690.3 L793.3,690.1 L794.7,690.0 L795.9,689.9 L797.0,689.8 L798.0,689.7 L799.0,689.6 L800.0,689.6 L800.9,689.6 L801.8,689.6 L802.6,689.6 L803.3,689.7 L804.0,689.8 L804.7,689.8 L805.3,689.9 L806.0,690.0 L806.7,690.1 L807.3,690.2 L807.9,690.4 L808.5,690.6 L809.1,690.7 L809.7,690.8 L810.3,690.9 L811.0,690.9 L811.7,690.9 L812.3,690.8 L812.9,690.7 L813.6,690.5 L814.3,690.3 L815.1,690.1 L816.0,689.9 L817.0,689.6 L818.2,689.3 L819.4,688.9 L820.7,688.5 L822.1,688.1 L823.6,687.7 L825.2,687.3 L827.0,686.8 L829.0,686.4 L831.2,686.0 L833.6,685.6 L836.1,685.2 L838.8,684.7 L841.6,684.3 L844.4,683.9 L847.2,683.5 L850.0,683.0 L852.6,682.6 L855.1,682.2 L857.5,681.9 L859.9,681.6 L862.6,681.1 L865.6,680.6 L869.1,680.0 L873.1,679.1 L877.8,678.0 L883.0,676.8 L888.7,675.4 L894.8,673.9 L901.0,672.4 L907.4,670.8 L913.7,669.2 L920.0,667.6 L926.2,666.0 L932.4,664.4 L938.7,662.8 L945.1,661.1 L951.6,659.5 L958.2,657.8 L964.9,656.1 L971.7,654.4 L978.6,652.7 L985.7,651.0 L992.9,649.3 L1000.2,647.6 L1007.6,645.8 L1015.0,644.1 L1022.5,642.4 L1030.0,640.6 L1037.8,638.8 L1045.9,636.9 L1054.3,634.9 L1062.7,633.0 L1070.8,631.1 L1078.5,629.3 L1085.5,627.7 L1091.6,626.3 L1096.4,625.2 L1099.8,624.5 L1102.4,623.9 L1104.6,623.5 L1107.0,623.0 L1110.0,622.4 L1114.2,621.5 L1120.0,620.2 L1127.7,618.5 L1136.8,616.5 L1147.1,614.2 L1158.0,611.8 L1169.2,609.3 L1180.2,606.8 L1190.6,604.5 L1200.0,602.4 L1208.6,600.5 L1216.9,598.6 L1224.8,596.8 L1232.5,595.1 L1239.8,593.4 L1246.9,591.8 L1253.6,590.3 L1260.0,588.9 L1266.1,587.6 L1272.1,586.3 L1277.7,585.1 L1283.0,584.0 L1287.9,583.0 L1292.4,582.1 L1296.5,581.3 L1300.0,580.6 L1302.9,580.0 L1305.2,579.6 L1307.0,579.3 L1308.4,579.1 L1309.5,578.9 L1310.5,578.7 L1311.4,578.6 L1312.5,578.4 L1313.6,578.2 L1314.5,578.0 L1315.2,577.9 L1315.9,577.8 L1316.5,577.6 L1317.2,577.5 L1317.8,577.4 L1318.5,577.3 L1319.2,577.1 L1320.0,577.0 L1320.8,576.9 L1321.5,576.7 L1322.2,576.6 L1323.0,576.5 L1323.8,576.3 L1324.5,576.2 L1325.3,576.1 L1326.0,575.9 L1326.8,575.8 L1327.6,575.7 L1328.3,575.5 L1329.1,575.4 L1329.8,575.3 L1330.5,575.2 L1331.2,575.1 L1331.8,575.0 L1332.5,574.9 L1333.1,574.8 L1333.7,574.7 L1334.3,574.6 L1334.9,574.5 L1335.5,574.4 L1336.1,574.3 L1336.7,574.2 L1337.3,574.2 L1337.8,574.1 L1338.4,574.0 L1339.0,573.9 L1339.5,573.9 L1340.0,573.8 L1340.5,573.8 L1341.0,573.7 L1341.4,573.7 L1341.8,573.6 L1342.3,573.6 L1342.7,573.6 L1343.1,573.5 L1343.5,573.5 L1343.9,573.5 L1344.2,573.5 L1344.4,573.4 L1344.7,573.4 L1345.0,573.4 L1345.4,573.4 L1345.9,573.4 L1346.5,573.4 L1347.3,573.4 L1348.2,573.4 L1349.3,573.5 L1350.4,573.5 L1351.5,573.6 L1352.6,573.6 L1353.6,573.8 L1354.5,573.9 L1355.3,574.1 L1356.0,574.3 L1356.6,574.5 L1357.2,574.8 L1357.8,575.0 L1358.4,575.3 L1358.9,575.6 L1359.5,576.0 L1360.1,576.4 L1360.7,576.8 L1361.2,577.2 L1361.8,577.7 L1362.4,578.2 L1362.9,578.7 L1363.4,579.2 L1363.9,579.7 L1364.4,580.2 L1364.8,580.8 L1365.2,581.3 L1365.7,581.9 L1366.0,582.4 L1366.4,583.0 L1366.8,583.6 L1367.1,584.2 L1367.4,584.8 L1367.7,585.4 L1367.9,586.1 L1368.2,586.7 L1368.4,587.4 L1368.6,588.1 L1368.9,588.7 L1369.1,589.4 L1369.3,590.1 L1369.6,590.7 L1369.8,591.4 L1370.0,592.0 L1370.2,592.7 L1370.5,593.4 L1370.7,594.1 L1370.9,594.9 L1371.1,595.7 L1371.3,596.6 L1371.5,597.5 L1371.7,598.4 L1371.9,599.4 L1372.1,600.4 L1372.3,601.4 L1372.5,602.4 L1372.7,603.4 L1372.8,604.5 L1373.0,605.6 L1373.1,606.7 L1373.3,607.9 L1373.4,609.0 L1373.6,610.2 L1373.7,611.4 L1373.8,612.6 L1374.0,613.9 L1374.1,615.1 L1374.3,616.4 L1374.4,617.7 L1374.6,618.9 L1374.7,620.2 L1374.8,621.4 L1374.9,622.6 L1375.0,623.7 L1375.1,624.9 L1375.1,626.0 L1375.2,627.1 L1375.3,628.2 L1375.3,629.3 L1375.4,630.4 L1375.5,631.5 L1375.5,632.5 L1375.6,633.5 L1375.7,634.5 L1375.7,635.5 L1375.8,636.5 L1375.8,637.5 L1375.9,638.4 L1375.9,639.3 L1376.0,640.1 L1376.0,641.0 L1376.1,641.8 L1376.1,642.6 L1376.1,643.5 L1376.2,644.4 L1376.2,645.4 L1376.2,645.1 L1376.3,642.8 L1376.3,639.8 L1376.3,637.2 L1376.4,636.3 L1376.4,638.2 L1376.4,644.2 L1376.5,655.4 L1376.6,672.4 L1376.6,694.4 L1376.7,720.3 L1376.8,749.1 L1376.9,779.8 L1377.0,811.5 L1377.1,843.0 L1377.2,873.4 L1377.3,903.4 L1377.4,934.4 L1377.5,966.1 L1377.6,998.3 L1377.7,1030.7 L1377.8,1063.3 L1378.0,1095.7 L1378.1,1127.7 L1378.2,1161.2 L1378.3,1197.2 L1378.4,1234.2 L1378.5,1270.7 L1378.6,1305.3 L1378.7,1336.3 L1378.8,1362.4 L1378.9,1382.0 L1378.9,1394.8"/>
<path d="M249.0,700.0 L250.0,700.0 L251.3,700.0 L252.9,700.0 L254.7,700.0 L256.6,700.1 L258.4,700.1 L260.3,700.2 L262.0,700.3 L263.6,700.5 L265.3,700.6 L267.0,700.9 L268.7,701.1 L270.3,701.4 L272.0,701.6 L273.5,701.8 L275.0,702.0 L276.4,702.2 L277.7,702.3 L278.9,702.4 L280.1,702.6 L281.3,702.7 L282.5,702.8 L283.7,702.8 L285.0,702.9 L286.4,702.9 L288.0,703.0 L289.6,703.0 L291.2,703.0 L292.8,703.0 L294.3,703.0 L295.6,702.9 L296.7,702.9 L297.6,702.9 L298.2,702.9 L298.7,702.9 L299.1,702.9 L299.5,702.9 L299.8,702.8 L300.2,702.6 L300.7,702.3 L301.3,701.9 L301.8,701.5 L302.4,700.9 L303.0,700.3 L303.6,699.7 L304.2,699.0 L304.8,698.3 L305.3,697.5 L305.9,696.7 L306.5,695.7 L307.0,694.7 L307.6,693.6 L308.1,692.6 L308.7,691.6 L309.2,690.6 L309.7,689.7 L310.2,688.9 L310.7,688.1 L311.2,687.3 L311.6,686.6 L312.1,685.9 L312.6,685.3 L313.0,684.8 L313.4,684.3 L313.8,683.9 L314.2,683.6 L314.6,683.4 L314.9,683.2 L315.3,683.1 L315.6,683.0 L315.9,682.9 L316.3,682.9 L316.6,682.9 L316.9,683.0 L317.2,683.0 L317.6,683.2 L317.9,683.3 L318.2,683.6 L318.5,683.8 L318.8,684.2 L319.1,684.6 L319.4,685.1 L319.7,685.7 L320.1,686.3 L320.4,687.0 L320.7,687.6 L321.0,688.4 L321.3,689.1 L321.6,689.9 L321.9,690.8 L322.2,691.7 L322.5,692.6 L322.8,693.5 L323.1,694.4 L323.3,695.3 L323.6,696.1 L323.9,696.8 L324.1,697.4 L324.4,698.1 L324.6,698.6 L324.8,699.2 L325.1,699.7 L325.3,700.1 L325.5,700.5 L325.7,700.8 L325.9,701.1 L326.0,701.3 L326.2,701.5 L326.4,701.6 L326.5,701.7 L326.7,701.7 L326.9,701.7 L327.1,701.7 L327.3,701.6 L327.5,701.5 L327.7,701.3 L327.9,701.1 L328.1,700.8 L328.4,700.5 L328.6,700.0 L328.9,699.4 L329.1,698.8 L329.4,698.1 L329.7,697.3 L330.0,696.4 L330.3,695.5 L330.6,694.5 L331.0,693.5 L331.4,692.4 L331.8,691.2 L332.3,690.0 L332.8,688.7 L333.2,687.4 L333.7,686.1 L334.1,684.9 L334.5,683.8 L334.9,682.8 L335.2,681.8 L335.5,680.9 L335.8,680.0 L336.0,679.2 L336.3,678.3 L336.6,677.5 L336.9,676.7 L337.2,675.9 L337.5,675.1 L337.8,674.2 L338.2,673.5 L338.5,672.7 L338.8,672.0 L339.2,671.3 L339.5,670.7 L339.9,670.2 L340.2,669.7 L340.6,669.2 L340.9,668.8 L341.3,668.5 L341.7,668.1 L342.1,667.9 L342.5,667.6 L342.9,667.4 L343.3,667.2 L343.6,667.1 L344.0,667.0 L344.4,667.0 L344.9,666.9 L345.4,666.9 L346.0,666.9 L346.7,666.9 L347.4,666.9 L348.1,666.9 L349.0,667.0 L349.9,667.0 L350.8,667.1 L351.9,667.2 L353.0,667.3 L354.1,667.4 L355.1,667.6 L356.1,667.8 L357.2,668.0 L358.6,668.1 L360.3,668.3 L362.4,668.5 L365.0,668.6 L368.2,668.7 L372.0,668.8 L376.2,668.8 L380.8,668.8 L385.5,668.9 L390.4,668.9 L395.2,668.9 L400.0,668.9 L404.9,668.9 L410.1,668.9 L415.5,668.8 L420.9,668.8 L426.2,668.8 L431.2,668.8 L435.9,668.8 L440.0,668.9 L443.5,669.1 L446.6,669.3 L449.4,669.5 L451.8,669.8 L454.1,670.1 L456.3,670.4 L458.6,670.6 L461.0,670.9 L463.5,671.1 L465.8,671.4 L468.2,671.6 L470.5,671.9 L472.8,672.1 L475.1,672.4 L477.5,672.6 L480.0,672.9 L482.5,673.2 L485.0,673.4 L487.5,673.7 L490.1,673.9 L492.7,674.2 L495.5,674.5 L498.5,674.8 L501.6,675.1 L504.9,675.5 L508.3,675.8 L511.9,676.3 L515.6,676.7 L519.4,677.1 L523.4,677.5 L527.6,677.9 L532.0,678.2 L536.6,678.5 L541.3,678.7 L546.3,678.9 L551.4,679.1 L556.6,679.2 L562.0,679.4 L567.5,679.5 L573.0,679.7 L578.8,679.9 L584.8,680.1 L591.1,680.3 L597.4,680.5 L603.6,680.7 L609.8,680.9 L615.6,681.0 L621.0,681.2 L626.0,681.3 L630.6,681.5 L635.0,681.6 L639.2,681.7 L643.4,681.8 L647.5,682.0 L651.7,682.1 L656.0,682.2 L660.4,682.3 L664.8,682.4 L669.3,682.5 L673.7,682.7 L678.2,682.8 L682.7,682.9 L687.3,683.0 L692.0,683.2 L696.8,683.4 L701.5,683.6 L706.4,683.9 L711.2,684.1 L716.2,684.4 L721.3,684.6 L726.6,684.8 L732.0,685.0 L737.7,685.2 L743.7,685.3 L749.9,685.4 L756.2,685.5 L762.5,685.6 L768.6,685.7 L774.5,685.8 L780.0,685.9 L785.3,686.0 L790.6,686.1 L795.8,686.1 L800.8,686.2 L805.4,686.3 L809.8,686.3 L813.6,686.4 L817.0,686.5 L819.5,686.6 L821.0,686.7 L821.9,686.8 L822.6,686.9 L823.3,686.9 L824.3,687.1 L826.1,687.2 L829.0,687.3 L833.0,687.4 L837.9,687.6 L843.4,687.8 L849.4,687.9 L855.5,688.1 L861.7,688.3 L867.6,688.5 L873.0,688.7 L878.1,688.9 L883.1,689.2 L888.1,689.5 L892.9,689.8 L897.7,690.0 L902.3,690.3 L906.7,690.4 L911.0,690.5 L915.1,690.5 L919.2,690.4 L923.1,690.3 L926.8,690.1 L930.4,689.9 L933.8,689.6 L937.0,689.4 L940.0,689.2 L942.7,689.0 L945.3,688.7 L947.6,688.4 L949.8,688.0 L951.7,687.7 L953.5,687.5 L955.1,687.3 L956.6,687.2 L957.8,687.2 L958.7,687.3 L959.4,687.4 L960.0,687.6 L960.4,687.8 L960.9,688.0 L961.4,688.2 L962.0,688.4 L962.7,688.6 L963.4,688.8 L964.2,689.0 L964.9,689.2 L965.7,689.4 L966.4,689.6 L967.2,689.7 L968.0,689.7 L968.8,689.7 L969.6,689.6 L970.4,689.4 L971.2,689.3 L972.1,689.1 L973.0,688.8 L974.0,688.6 L975.0,688.4 L976.1,688.2 L977.1,688.0 L978.2,687.7 L979.4,687.5 L980.6,687.2 L981.9,687.0 L983.4,686.6 L985.0,686.3 L986.6,686.0 L988.1,685.6 L989.6,685.3 L991.3,684.9 L993.2,684.5 L995.6,683.9 L998.5,683.3 L1002.0,682.6 L1006.3,681.7 L1011.4,680.7 L1017.0,679.6 L1023.0,678.4 L1029.3,677.1 L1035.5,675.9 L1041.7,674.7 L1047.6,673.5 L1053.4,672.3 L1059.4,671.1 L1065.4,669.9 L1071.5,668.6 L1077.3,667.5 L1082.9,666.3 L1088.2,665.3 L1093.0,664.4 L1096.9,663.7 L1099.8,663.2 L1102.1,662.9 L1104.3,662.6 L1106.8,662.3 L1110.0,661.9 L1114.2,661.2 L1120.0,660.2 L1127.6,658.8 L1136.7,657.2 L1147.0,655.3 L1157.9,653.3 L1169.1,651.3 L1180.2,649.3 L1190.6,647.3 L1200.0,645.6 L1208.7,644.0 L1217.3,642.4 L1225.7,640.8 L1233.8,639.3 L1241.3,637.9 L1248.3,636.5 L1254.6,635.4 L1260.0,634.4 L1263.7,633.8 L1265.5,633.5 L1266.0,633.5 L1266.2,633.6 L1266.9,633.5 L1268.9,633.3 L1273.0,632.6 L1280.0,631.4 L1290.2,629.6 L1303.0,627.2 L1317.7,624.5 L1333.8,621.6 L1350.6,618.5 L1367.7,615.4 L1384.3,612.3 L1400.0,609.5 L1415.5,606.7 L1431.6,603.8 L1448.1,600.9 L1464.4,598.0 L1480.1,595.3 L1494.9,592.7 L1508.3,590.3 L1520.0,588.3 L1529.8,586.6 L1538.1,585.2 L1545.2,584.1 L1551.3,583.1 L1556.6,582.3 L1561.3,581.6 L1565.7,580.9 L1570.0,580.2 L1574.0,579.5 L1577.3,578.9 L1580.0,578.4 L1582.3,578.0 L1584.3,577.6 L1586.0,577.3 L1587.6,577.0 L1589.2,576.7 L1590.6,576.5 L1591.6,576.3 L1592.4,576.2 L1593.0,576.1 L1593.5,576.0 L1594.0,576.0 L1594.5,575.9 L1595.2,575.8 L1596.0,575.7 L1596.7,575.6 L1597.5,575.5 L1598.2,575.4 L1599.0,575.3 L1599.7,575.2 L1600.5,575.1 L1601.2,575.0 L1602.0,574.9 L1602.7,574.8 L1603.5,574.7 L1604.3,574.6 L1605.0,574.5 L1605.8,574.4 L1606.5,574.3 L1607.2,574.2 L1607.9,574.1 L1608.5,574.0 L1609.2,573.9 L1609.8,573.9 L1610.4,573.8 L1611.0,573.7 L1611.6,573.7 L1612.2,573.6 L1612.8,573.5 L1613.4,573.5 L1614.0,573.4 L1614.5,573.3 L1615.1,573.3 L1615.7,573.2 L1616.2,573.2 L1616.7,573.1 L1617.2,573.1 L1617.7,573.1 L1618.1,573.0 L1618.5,573.0 L1619.0,573.0 L1619.4,572.9 L1619.8,572.9 L1620.2,572.9 L1620.6,572.9 L1620.9,572.8 L1621.2,572.8 L1621.4,572.8 L1621.7,572.8 L1622.1,572.8 L1622.6,572.8 L1623.2,572.8 L1624.0,572.8 L1624.9,572.8 L1625.9,572.9 L1627.0,572.9 L1628.1,573.0 L1629.1,573.0 L1630.1,573.2 L1631.0,573.3 L1631.8,573.5 L1632.5,573.7 L1633.1,573.9 L1633.7,574.1 L1634.3,574.4 L1634.9,574.7 L1635.4,575.0 L1636.0,575.4 L1636.6,575.8 L1637.2,576.2 L1637.7,576.6 L1638.3,577.1 L1638.9,577.6 L1639.4,578.1 L1639.9,578.6 L1640.4,579.1 L1640.9,579.6 L1641.3,580.2 L1641.7,580.7 L1642.2,581.3 L1642.5,581.8 L1642.9,582.4 L1643.3,583.0 L1643.6,583.6 L1643.9,584.2 L1644.2,584.8 L1644.4,585.5 L1644.7,586.1 L1644.9,586.8 L1645.1,587.5 L1645.4,588.1 L1645.6,588.8 L1645.8,589.5 L1646.1,590.1 L1646.3,590.8 L1646.5,591.4 L1646.7,592.1 L1647.0,592.8 L1647.2,593.5 L1647.4,594.3 L1647.6,595.1 L1647.8,596.0 L1648.0,596.9 L1648.2,597.8 L1648.4,598.8 L1648.6,599.8 L1648.8,600.8 L1649.0,601.8 L1649.2,602.8 L1649.3,603.9 L1649.5,605.0 L1649.6,606.1 L1649.8,607.3 L1649.9,608.4 L1650.1,609.6 L1650.2,610.8 L1650.3,612.0 L1650.5,613.3 L1650.6,614.5 L1650.8,615.8 L1650.9,617.1 L1651.1,618.3 L1651.2,619.6 L1651.3,620.8 L1651.4,622.0 L1651.5,623.1 L1651.6,624.3 L1651.6,625.4 L1651.7,626.5 L1651.8,627.6 L1651.8,628.7 L1651.9,629.8 L1652.0,630.9 L1652.0,631.9 L1652.1,632.9 L1652.2,633.9 L1652.2,634.9 L1652.3,635.9 L1652.3,636.9 L1652.4,637.8 L1652.4,638.7 L1652.5,639.5 L1652.5,640.4 L1652.6,641.2 L1652.6,642.0 L1652.6,642.9 L1652.7,643.8 L1652.7,644.8 L1652.7,644.5 L1652.8,642.2 L1652.8,639.2 L1652.8,636.6 L1652.8,635.7 L1652.9,637.6 L1652.9,643.6 L1653.0,654.8 L1653.1,671.9 L1653.2,693.9 L1653.3,719.8 L1653.4,748.6 L1653.5,779.3 L1653.7,811.0 L1653.8,842.5 L1653.9,873.0 L1654.0,903.0 L1654.2,934.0 L1654.3,965.7 L1654.4,997.9 L1654.5,1030.4 L1654.7,1063.0 L1654.8,1095.4 L1655.0,1127.5 L1655.1,1161.0 L1655.2,1197.1 L1655.4,1234.1 L1655.5,1270.6 L1655.7,1305.2 L1655.8,1336.3 L1655.9,1362.4 L1656.0,1382.0 L1656.0,1394.8"/>
</g>
<g shape-rendering="crispEdges" fill="none" stroke="#0000ff" stroke-width="10.0" stroke-linejoin="round" stroke-linecap="round">
<path d="M249.0,1293.0 L252.1,1293.0 L256.3,1293.0 L261.3,1293.0 L266.9,1293.0 L272.9,1293.0 L279.0,1293.0 L284.9,1293.0 L290.6,1293.0 L295.7,1293.0 L300.0,1293.0 L303.7,1293.0 L307.0,1293.0 L310.0,1293.0 L312.8,1293.0 L315.3,1293.0 L317.7,1293.0 L319.9,1293.0 L322.0,1293.0 L324.0,1293.0 L326.0,1293.0 L327.9,1293.0 L329.6,1293.0" stroke-dasharray="33.70 23.45 0.01 23.45" stroke-dashoffset="0.0"/>
<path d="M329.6,1293.0 L329.6,1293.0 L331.2,1293.0 L332.7,1293.0 L334.0,1293.0 L335.3,1293.0 L336.5,1293.0 L337.6,1293.0 L338.8,1292.9 L340.0,1292.9 L341.2,1292.9 L342.2,1292.8 L343.2,1292.8 L344.2,1292.8 L345.1,1292.7 L346.0,1292.7 L347.0,1292.6 L347.9,1292.5 L348.9,1292.4 L350.0,1292.3 L351.1,1292.2 L352.4,1292.0 L353.6,1291.8 L354.9,1291.6 L356.2,1291.5 L357.5,1291.2 L358.7,1291.0 L359.9,1290.8 L361.0,1290.5 L362.0,1290.3 L362.9,1290.1 L363.7,1289.8 L364.5,1289.5 L365.2,1289.3 L365.8,1289.0 L366.5,1288.7 L367.1,1288.4 L367.7,1288.1 L368.3,1287.7 L369.0,1287.3 L369.7,1286.9 L370.3,1286.6 L370.9,1286.3 L371.5,1285.9 L372.1,1285.6 L372.7,1285.1 L373.4,1284.6 L374.1,1283.9 L374.8,1283.0 L375.7,1282.0 L376.6,1280.8 L377.6,1279.4 L378.6,1278.0 L379.6,1276.4 L380.7,1274.7 L381.9,1272.9 L383.1,1270.9 L384.3,1268.8 L385.7,1266.6 L387.1,1264.2 L388.7,1261.6 L390.4,1258.7 L392.3,1255.6 L394.2,1252.3 L396.2,1248.9 L398.1,1245.5 L400.0,1242.2 L401.8,1239.0 L403.5,1236.0 L404.9,1233.3 L406.1,1230.9 L407.2,1228.6 L408.2,1226.5 L409.0,1224.5 L409.8,1222.6 L410.5,1220.7 L411.3,1218.9 L412.0,1217.1 L412.8,1215.2 L413.7,1213.2 L414.6,1211.2 L415.5,1209.3 L416.4,1207.5 L417.3,1205.6 L418.2,1203.8 L419.2,1201.8 L420.1,1199.8 L421.2,1197.7 L422.3,1195.3 L423.4,1192.8 L424.6,1190.0 L426.0,1186.9 L427.5,1183.6 L428.9,1180.1 L430.5,1176.6 L432.0,1173.1 L433.5,1169.6 L434.9,1166.3 L436.2,1163.1 L437.4,1160.3 L438.5,1157.7 L439.5,1155.4 L440.4,1153.1 L441.3,1151.0 L442.1,1149.0 L442.9,1147.1 L443.7,1145.2 L444.5,1143.2 L445.3,1141.3 L446.1,1139.2 L446.9,1137.1 L447.7,1135.2 L448.4,1133.3 L449.2,1131.4 L449.9,1129.5 L450.7,1127.5 L451.5,1125.4 L452.3,1123.2 L453.2,1120.7 L454.2,1118.1 L455.3,1115.2 L456.5,1111.9 L457.8,1108.4 L459.1,1104.7 L460.5,1101.0 L461.9,1097.3 L463.2,1093.6 L464.4,1090.1 L465.6,1086.9 L466.6,1084.0 L467.5,1081.4 L468.3,1079.1 L469.0,1077.0 L469.6,1075.0 L470.2,1073.1 L470.7,1071.3 L471.3,1069.5 L471.9,1067.7 L472.5,1065.9 L473.1,1063.9 L473.8,1061.9 L474.4,1060.1 L475.1,1058.3 L475.8,1056.5 L476.4,1054.6 L477.1,1052.7 L477.8,1050.7 L478.6,1048.5 L479.4,1046.1 L480.2,1043.5 L481.1,1040.5 L482.1,1037.2 L483.1,1033.7 L484.2,1029.9 L485.3,1026.1 L486.4,1022.3 L487.4,1018.5 L488.5,1015.0 L489.4,1011.7 L490.3,1008.7 L491.1,1006.1 L491.8,1003.7 L492.5,1001.6 L493.2,999.6 L493.8,997.7 L494.4,995.9 L495.0,994.1 L495.6,992.3 L496.2,990.4 L496.8,988.3 L497.4,986.2 L497.9,984.1 L498.4,982.0 L498.9,979.9 L499.4,977.7 L499.9,975.5 L500.4,973.2 L501.0,970.8 L501.6,968.3 L502.3,965.6 L503.1,962.7 L504.0,959.6 L504.9,956.3 L505.9,952.9 L506.9,949.4 L507.9,945.9 L508.8,942.5 L509.8,939.2 L510.6,936.0 L511.4,933.1 L512.1,930.4 L512.7,927.8 L513.2,925.3 L513.8,922.9 L514.2,920.6 L514.7,918.3 L515.2,916.1 L515.6,913.9 L516.1,911.6 L516.6,909.4 L517.1,907.2 L517.6,905.2 L518.1,903.2 L518.6,901.2 L519.1,899.3 L519.6,897.3 L520.1,895.2 L520.7,892.9 L521.2,890.4 L521.8,887.7 L522.4,884.6 L523.1,881.2 L523.7,877.5 L524.4,873.7 L525.1,869.8 L525.8,865.9 L526.5,862.0 L527.1,858.4 L527.7,855.0 L528.3,852.0 L528.8,849.3 L529.3,847.0 L529.8,844.8 L530.2,842.8 L530.7,841.0 L531.1,839.2 L531.5,837.4 L531.8,835.5 L532.2,833.6 L532.5,831.5 L532.8,829.3 L533.0,827.2 L533.3,825.1 L533.4,823.0 L533.6,820.8 L533.8,818.5 L534.0,816.2 L534.2,813.7 L534.4,811.0 L534.7,808.2 L535.0,805.1 L535.4,801.6 L535.8,797.9 L536.2,794.1 L536.6,790.2 L537.1,786.3 L537.5,782.5 L537.9,778.9 L538.3,775.5 L538.6,772.5 L538.9,769.8 L539.2,767.4 L539.5,765.3 L539.8,763.3 L540.0,761.4 L540.3,759.5 L540.5,757.7 L540.8,755.7 L541.0,753.7 L541.2,751.4" stroke-dasharray="33.70 22.95 0.01 22.95" stroke-dashoffset="7.1"/>
<path d="M541.2,751.4 L541.4,749.0 L541.6,746.6 L541.8,744.1 L542.0,741.6 L542.2,739.1 L542.4,736.4 L542.5,733.7 L542.7,730.9 L542.9,728.0 L543.0,725.0 L543.1,721.7 L543.3,718.0 L543.4,714.0 L543.5,709.9 L543.6,705.9 L543.7,701.9 L543.8,698.2 L543.9,694.9 L543.9,692.1 L544.0,690.0 L544.6,516.0 L544.9,476.0" stroke-dasharray="33.70 23.45 0.01 23.45" stroke-dashoffset="57.1"/>
<path d="M544.9,476.0 L546.2,1473.0" stroke-dasharray="33.70 23.45 0.01 23.45" stroke-dashoffset="11.7"/>
<path d="M546.2,1473.0 L1794.0,1473.0" stroke-dasharray="33.70 23.60 0.01 23.60" stroke-dashoffset="41.1"/>
<path d="M249.0,1294.2 L252.1,1294.2 L256.3,1294.2 L261.3,1294.2 L266.9,1294.2 L272.9,1294.2 L279.0,1294.2 L284.9,1294.2 L290.6,1294.2 L295.7,1294.2 L300.0,1294.2 L303.7,1294.2 L307.1,1294.2 L310.1,1294.2 L313.0,1294.2 L315.6,1294.2 L318.0,1294.2 L320.2,1294.2 L322.2,1294.2 L324.2,1294.2 L326.0,1294.2 L327.6,1294.2 L329.0,1294.2 L330.0,1294.2 L331.0,1294.2 L331.8,1294.1 L332.5,1294.1 L333.2,1294.1 L334.0,1294.1 L334.9,1294.1 L336.0,1294.0 L337.2,1294.0 L338.6,1293.9 L340.0,1293.9 L341.4,1293.9 L342.9,1293.8 L344.4,1293.8 L345.8,1293.7 L347.3,1293.6 L348.7,1293.6 L350.0,1293.5 L351.3,1293.5 L352.6,1293.4 L353.9,1293.3 L355.1,1293.3 L356.4,1293.2 L357.6,1293.1 L358.8,1293.1 L359.9,1293.0 L361.0,1293.0 L362.0,1292.9 L363.0,1292.9 L363.8,1292.9 L364.6,1292.9 L365.4,1292.9 L366.1,1292.9 L366.8,1292.9 L367.6,1292.9 L368.3,1292.9 L369.1,1292.9 L370.0,1292.9 L370.9,1292.9 L371.7,1292.9 L372.5,1292.9 L373.4,1292.9 L374.2,1292.9 L375.2,1292.9 L376.2,1292.9 L377.3,1292.9 L378.6,1292.9 L380.0,1292.9 L381.6,1292.9 L383.4,1292.9 L385.3,1292.9 L387.3,1292.9 L389.4,1292.9 L391.5,1292.9 L393.7,1292.9 L395.8,1292.8 L398.0,1292.8 L400.0,1292.8 L402.0,1292.8 L404.0,1292.8 L406.0,1292.8 L408.0,1292.8 L410.0,1292.8 L412.0,1292.8 L414.0,1292.8 L416.0,1292.7 L418.0,1292.7 L420.0,1292.7 L422.0,1292.7 L424.0,1292.7 L426.0,1292.7 L428.0,1292.7 L430.0,1292.7 L432.0,1292.7 L434.0,1292.7 L436.0,1292.7 L438.0,1292.6 L440.0,1292.6 L442.0,1292.6 L444.0,1292.6 L446.0,1292.6 L448.0,1292.6 L450.0,1292.6 L452.0,1292.6 L454.0,1292.6 L456.0,1292.6 L458.0,1292.5 L460.0,1292.5 L462.0,1292.5 L464.2,1292.5 L466.3,1292.6 L468.5,1292.6 L470.6,1292.6 L472.7,1292.6 L474.7,1292.6 L476.6,1292.6 L478.4,1292.5 L480.0,1292.4 L481.4,1292.3 L482.6,1292.2 L483.6,1292.0 L484.6,1291.8 L485.4,1291.6 L486.3,1291.4 L487.1,1291.1 L488.0,1290.9 L488.9,1290.7 L490.0,1290.5 L490.8,1290.4" stroke-dasharray="33.70 23.45 0.01 23.45" stroke-dashoffset="0.0"/>
<path d="M490.8,1290.4 L491.2,1290.3 L492.3,1290.1 L493.6,1290.0 L494.8,1289.8 L496.1,1289.7 L497.4,1289.5 L498.7,1289.3 L500.1,1289.1 L501.5,1288.8 L503.0,1288.5 L504.5,1288.2 L506.2,1287.8 L507.8,1287.4 L509.6,1287.0 L511.3,1286.6 L513.1,1286.1 L514.9,1285.6 L516.6,1285.1 L518.3,1284.6 L520.0,1284.0 L521.6,1283.4 L523.2,1282.9 L524.8,1282.3 L526.4,1281.7 L528.0,1281.1 L529.5,1280.5 L531.1,1279.7 L532.7,1278.9 L534.2,1278.0 L535.8,1277.0 L537.3,1275.9 L538.8,1274.7 L540.2,1273.5 L541.6,1272.1 L543.0,1270.7 L544.5,1269.2 L546.0,1267.6 L547.7,1266.0 L549.6,1264.2 L551.6,1262.3 L553.9,1260.2 L556.5,1257.9 L559.3,1255.5 L562.2,1252.9 L565.1,1250.3 L568.1,1247.7 L571.0,1245.1 L573.8,1242.6 L576.3,1240.3 L578.6,1238.2 L580.6,1236.3 L582.4,1234.5 L584.0,1232.9 L585.5,1231.3 L586.9,1229.8 L588.2,1228.4 L589.5,1227.0 L590.8,1225.6 L592.2,1224.1 L593.6,1222.6 L595.0,1221.1 L596.3,1219.7 L597.6,1218.4 L598.9,1217.0 L600.1,1215.6 L601.4,1214.2 L602.8,1212.7 L604.3,1211.1 L606.0,1209.4 L607.8,1207.4 L609.9,1205.2 L612.2,1202.8 L614.7,1200.2 L617.3,1197.4 L620.0,1194.6 L622.7,1191.8 L625.3,1189.0 L627.8,1186.3 L630.1,1183.7 L632.1,1181.4 L633.7,1179.4 L634.8,1177.9 L635.7,1176.7 L636.3,1175.6 L637.0,1174.5 L637.8,1173.2 L638.8,1171.5 L640.2,1169.4 L642.2,1166.5 L644.8,1162.9 L648.2,1158.4 L652.2,1153.1 L656.7,1147.2 L661.6,1140.8 L666.8,1134.1 L672.1,1127.1 L677.5,1120.0 L682.7,1112.9 L687.8,1106.0 L692.5,1099.3 L697.0,1092.8 L701.4,1086.2 L705.8,1079.7 L710.1,1073.1 L714.4,1066.5 L718.6,1059.8 L722.8,1053.1 L726.9,1046.4 L731.0,1039.6 L735.1,1032.8 L739.2,1026.0 L743.2,1019.1 L747.3,1012.2 L751.3,1005.2 L755.2,998.2 L759.1,991.2 L762.9,984.1 L766.6,977.0 L770.2,969.9 L773.7,962.7 L777.1,955.3 L780.5,947.7 L783.8,939.8 L787.0,931.9 L790.1,924.1 L793.1,916.3 L795.9,908.8 L798.5,901.6 L800.8,894.9 L802.9,888.7 L804.6,883.1 L806.1,877.9 L807.2,873.1 L808.2,868.7 L809.0,864.5 L809.6,860.5 L810.2,856.6 L810.8,852.8 L811.4,848.9 L812.0,845.0 L812.7,841.1 L813.3,837.3 L813.8,833.6 L814.3,830.0 L814.8,826.5 L815.3,823.0 L815.7,819.5 L816.1,816.0 L816.5,812.6 L816.9,809.1" stroke-dasharray="33.70 22.85 0.01 22.85" stroke-dashoffset="9.5"/>
<path d="M816.9,809.1 L817.3,805.6 L817.7,802.2 L818.0,798.8 L818.3,795.4 L818.6,792.0 L818.9,788.6 L819.2,785.2 L819.5,781.8 L819.7,778.4 L820.0,775.0 L820.2,771.6 L820.5,768.1 L820.7,764.7 L820.9,761.3 L821.1,757.9 L821.3,754.4 L821.5,750.9 L821.7,747.3 L821.8,743.7 L822.0,740.0 L822.1,736.0 L822.3,731.7 L822.4,727.1 L822.5,722.4 L822.6,717.8 L822.7,713.4 L822.8,709.2 L822.9,705.5 L822.9,702.4 L823.0,700.0 L823.4,542.0 L823.7,502.0" stroke-dasharray="33.70 23.45 0.01 23.45" stroke-dashoffset="57.1"/>
<path d="M823.7,502.0 L825.0,1473.0" stroke-dasharray="33.70 23.45 0.01 23.45" stroke-dashoffset="54.2"/>
<path d="M825.0,1473.0 L1794.0,1473.0" stroke-dasharray="33.70 23.60 0.01 23.60" stroke-dashoffset="57.9"/>
<path d="M249.0,1295.4 L252.1,1295.4 L256.3,1295.4 L261.3,1295.4 L266.9,1295.4 L272.9,1295.4 L279.0,1295.4 L284.9,1295.4 L290.6,1295.4 L295.7,1295.4 L300.0,1295.4 L303.7,1295.4 L307.1,1295.4 L310.1,1295.4 L313.0,1295.4 L315.6,1295.4 L318.0,1295.4 L320.2,1295.4 L322.2,1295.4 L324.2,1295.4 L326.0,1295.4 L327.6,1295.4 L329.0,1295.4 L330.0,1295.3 L331.0,1295.3 L331.8,1295.3 L332.5,1295.2 L333.2,1295.2 L334.0,1295.2 L334.9,1295.1 L336.0,1295.0 L337.2,1295.0 L338.6,1294.9 L340.0,1294.8 L341.4,1294.7 L342.9,1294.6 L344.4,1294.5 L345.8,1294.4 L347.3,1294.3 L348.7,1294.2 L350.0,1294.1 L351.3,1294.0 L352.6,1293.9 L353.9,1293.7 L355.1,1293.6 L356.4,1293.5 L357.6,1293.4 L358.8,1293.3 L359.9,1293.2 L361.0,1293.1 L362.0,1293.0 L363.0,1293.0 L363.8,1293.0 L364.6,1292.9 L365.4,1292.9 L366.1,1292.9 L366.8,1292.9 L367.6,1292.9 L368.3,1292.9 L369.1,1292.9 L370.0,1292.9 L370.9,1292.9 L371.7,1292.9 L372.5,1292.9 L373.4,1292.9 L374.2,1292.9 L375.2,1292.9 L376.2,1292.9 L377.3,1292.9 L378.6,1292.9 L380.0,1292.9 L381.6,1292.9 L383.4,1292.9 L385.3,1292.9 L387.3,1292.9 L389.4,1292.9 L391.5,1292.9 L393.7,1292.9 L395.8,1292.8 L398.0,1292.8 L400.0,1292.8 L402.0,1292.8 L404.0,1292.8 L406.0,1292.8 L408.0,1292.8 L410.0,1292.8 L412.0,1292.8 L414.0,1292.8 L416.0,1292.7 L418.0,1292.7 L420.0,1292.7 L422.0,1292.7 L424.0,1292.7 L426.0,1292.7 L428.0,1292.7 L430.0,1292.7 L432.0,1292.7 L434.0,1292.7 L436.0,1292.7 L438.0,1292.6 L440.0,1292.6 L442.0,1292.6 L444.0,1292.6 L446.0,1292.6 L448.0,1292.6 L450.0,1292.6 L452.0,1292.6 L454.0,1292.6 L456.0,1292.6 L458.0,1292.5 L460.0,1292.5 L462.0,1292.5 L464.0,1292.5 L466.0,1292.5 L468.0,1292.5 L470.0,1292.5 L472.0,1292.5 L474.0,1292.5 L476.0,1292.5 L478.0,1292.5 L480.0,1292.4 L482.0,1292.4 L484.0,1292.4 L486.0,1292.4 L488.0,1292.4 L490.0,1292.4 L492.0,1292.4 L494.0,1292.4 L496.0,1292.4 L498.0,1292.4 L500.0,1292.3 L502.0,1292.3 L504.0,1292.3 L506.0,1292.3 L508.0,1292.3 L510.0,1292.3 L512.0,1292.3 L514.0,1292.3 L516.0,1292.3 L518.0,1292.3 L520.0,1292.3 L522.0,1292.2 L524.0,1292.2 L526.0,1292.2 L528.0,1292.2 L530.0,1292.2 L532.0,1292.2 L534.0,1292.2 L536.0,1292.2 L538.0,1292.2 L540.0,1292.2 L542.0,1292.1 L544.0,1292.1 L546.0,1292.1 L548.0,1292.1 L550.0,1292.1 L552.0,1292.1 L554.0,1292.1 L556.0,1292.1 L558.0,1292.1 L560.0,1292.1 L562.0,1292.1 L564.0,1292.0 L566.0,1292.0 L568.0,1292.0 L570.0,1292.0 L572.0,1292.0 L574.0,1292.0 L576.0,1292.0 L578.0,1292.0 L580.0,1292.0 L582.0,1292.0 L584.0,1291.9 L586.0,1291.9 L588.0,1291.9 L590.0,1291.9 L592.0,1291.9 L594.0,1291.9 L596.0,1291.9 L598.0,1291.9 L600.0,1291.9 L602.0,1291.9 L603.9,1291.9 L605.8,1291.9 L607.8,1291.9 L609.7,1291.9 L611.6,1291.9 L613.6,1291.9 L615.7,1291.9 L617.8,1291.8 L620.0,1291.8 L622.3,1291.7 L624.8,1291.6 L627.4,1291.5 L630.1,1291.4 L632.8,1291.3 L635.5,1291.2 L638.1,1291.1 L640.6,1290.9 L642.9,1290.8 L645.0,1290.6 L646.9,1290.4 L648.6,1290.3 L650.1,1290.2 L651.5,1290.1 L652.0,1290.0" stroke-dasharray="33.70 23.45 0.01 23.45" stroke-dashoffset="0.0"/>
<path d="M652.0,1290.0 L652.8,1289.9 L654.1,1289.7 L655.4,1289.5 L656.8,1289.2 L658.3,1288.9 L660.0,1288.5 L661.8,1288.0 L663.7,1287.4 L665.7,1286.8 L667.7,1286.2 L669.8,1285.4 L671.9,1284.7 L674.0,1283.9 L676.0,1283.1 L678.1,1282.3 L680.0,1281.5 L681.9,1280.7 L683.8,1279.8 L685.6,1279.0 L687.4,1278.1 L689.2,1277.2 L691.0,1276.2 L692.8,1275.3 L694.6,1274.3 L696.3,1273.3 L698.1,1272.3 L699.8,1271.3 L701.4,1270.3 L702.8,1269.3 L704.3,1268.2 L705.8,1267.2 L707.4,1266.1 L709.1,1264.9 L710.9,1263.7 L713.0,1262.4 L715.3,1261.0 L718.0,1259.5 L721.0,1257.8 L724.4,1256.0 L727.9,1254.1 L731.5,1252.2 L735.1,1250.2 L738.6,1248.3 L741.9,1246.5 L745.0,1244.7 L747.7,1243.1 L750.1,1241.6 L752.2,1240.2 L754.2,1238.8 L756.0,1237.5 L757.7,1236.3 L759.3,1235.1 L760.8,1233.8 L762.4,1232.6 L763.9,1231.4 L765.6,1230.1 L767.2,1228.8 L768.7,1227.6 L770.1,1226.4 L771.5,1225.2 L772.9,1224.0 L774.4,1222.8 L775.9,1221.5 L777.7,1220.1 L779.6,1218.7 L781.8,1217.1 L784.3,1215.4 L787.2,1213.6 L790.4,1211.6 L793.7,1209.6 L797.1,1207.5 L800.5,1205.4 L803.8,1203.4 L807.0,1201.3 L810.0,1199.4 L812.6,1197.6 L814.9,1195.9 L817.1,1194.2 L819.0,1192.5 L820.8,1190.9 L822.6,1189.4 L824.2,1187.9 L825.8,1186.4 L827.3,1184.9 L828.9,1183.5 L830.5,1182.1 L832.0,1180.8 L833.4,1179.6 L834.8,1178.6 L836.0,1177.5 L837.3,1176.5 L838.6,1175.4 L840.0,1174.3 L841.5,1173.0 L843.2,1171.6 L845.1,1170.0 L847.3,1168.1 L849.7,1166.0 L852.3,1163.7 L855.1,1161.3 L857.9,1158.8 L860.7,1156.3 L863.5,1153.8 L866.2,1151.5 L868.8,1149.3 L871.1,1147.3 L873.2,1145.5 L875.2,1143.9 L877.1,1142.4 L878.9,1141.0 L880.6,1139.6 L882.3,1138.3 L883.9,1136.9 L885.6,1135.6 L887.2,1134.2 L888.9,1132.7 L890.5,1131.2 L892.1,1129.7 L893.6,1128.2 L895.0,1126.6 L896.5,1125.1 L898.0,1123.5 L899.6,1121.9 L901.3,1120.2 L903.1,1118.4 L905.1,1116.5 L907.4,1114.5 L909.9,1112.3 L912.5,1110.0 L915.4,1107.6 L918.2,1105.2 L921.1,1102.7 L923.9,1100.3 L926.5,1098.0 L928.9,1095.8 L931.1,1093.8 L932.8,1092.1 L934.1,1090.8 L935.0,1089.8 L935.8,1088.8 L936.5,1087.9 L937.4,1086.7 L938.6,1085.3 L940.2,1083.4 L942.4,1080.8 L945.4,1077.5 L949.2,1073.4 L953.7,1068.6 L958.8,1063.2 L964.3,1057.4 L970.1,1051.2 L976.1,1044.8 L982.1,1038.3 L988.0,1031.7 L993.7,1025.3 L999.0,1019.1 L1004.1,1013.0 L1009.2,1006.9 L1014.2,1000.8 L1019.2,994.7 L1024.2,988.5 L1029.0,982.2 L1033.7,975.8 L1038.3,969.4 L1042.8,962.9 L1047.0,956.2 L1051.1,949.2 L1055.3,941.7 L1059.3,933.8 L1063.3,925.9 L1067.0,917.9 L1070.6,910.2 L1073.9,902.8 L1076.9,896.0 L1079.6,890.0 L1081.8,884.8 L1083.6,880.7 L1084.8,877.5 L1085.7,875.1 L1086.2,873.3 L1086.5,871.8 L1086.7,870.5 L1086.8,869.2 L1086.9,867.7 L1087.2,865.8 L1087.6,863.3 L1088.2,860.2 L1088.8,856.8 L1089.4,853.2 L1090.0,849.3 L1090.6,845.4 L1091.2,841.5 L1091.7,837.7 L1092.3,834.0 L1092.7,830.6 L1093.1,827.6 L1093.4,825.0 L1093.7,822.7 L1093.8,820.7 L1094.0,818.8 L1094.1,817.1 L1094.2,815.3 L1094.3,813.5 L1094.4,811.5 L1094.5,809.2 L1094.7,806.5" stroke-dasharray="33.70 22.85 0.01 22.85" stroke-dashoffset="7.5"/>
<path d="M1094.7,806.5 L1094.9,803.5 L1095.2,800.2 L1095.5,796.6 L1095.8,792.9 L1096.1,789.1 L1096.4,785.2 L1096.7,781.3 L1097.0,777.5 L1097.3,773.7 L1097.5,770.0 L1097.7,766.4 L1097.9,762.9 L1098.1,759.4 L1098.3,755.9 L1098.5,752.4 L1098.7,748.9 L1098.9,745.5 L1099.0,742.0 L1099.2,738.5 L1099.3,735.0 L1099.4,731.3 L1099.6,727.4 L1099.7,723.4 L1099.8,719.3 L1099.9,715.3 L1099.9,711.5 L1100.0,707.9 L1100.1,704.8 L1100.2,702.1 L1100.2,700.0 L1100.3,537.0 L1100.6,497.0" stroke-dasharray="33.70 23.45 0.01 23.45" stroke-dashoffset="57.1"/>
<path d="M1100.6,497.0 L1102.3,1473.0" stroke-dasharray="33.70 23.45 0.01 23.45" stroke-dashoffset="35.7"/>
<path d="M1102.3,1473.0 L1794.0,1473.0" stroke-dasharray="33.70 23.60 0.01 23.60" stroke-dashoffset="45.3"/>
<path d="M249.0,1296.6 L252.1,1296.6 L256.3,1296.6 L261.3,1296.6 L266.9,1296.6 L272.9,1296.6 L279.0,1296.6 L284.9,1296.6 L290.6,1296.6 L295.7,1296.6 L300.0,1296.6 L303.7,1296.6 L307.1,1296.6 L310.1,1296.6 L313.0,1296.6 L315.6,1296.6 L318.0,1296.6 L320.2,1296.6 L322.2,1296.6 L324.2,1296.6 L326.0,1296.6 L327.6,1296.6 L329.0,1296.5 L330.0,1296.5 L331.0,1296.5 L331.8,1296.4 L332.5,1296.4 L333.2,1296.3 L334.0,1296.2 L334.9,1296.2 L336.0,1296.1 L337.2,1296.0 L338.6,1295.8 L340.0,1295.7 L341.4,1295.5 L342.9,1295.4 L344.4,1295.2 L345.8,1295.1 L347.3,1294.9 L348.7,1294.8 L350.0,1294.6 L351.3,1294.5 L352.6,1294.3 L353.9,1294.1 L355.1,1294.0 L356.4,1293.8 L357.6,1293.7 L358.8,1293.5 L359.9,1293.4 L361.0,1293.3 L362.0,1293.2 L363.0,1293.1 L363.8,1293.0 L364.6,1293.0 L365.4,1293.0 L366.1,1292.9 L366.8,1292.9 L367.6,1292.9 L368.3,1292.9 L369.1,1292.9 L370.0,1292.9 L370.9,1292.9 L371.7,1292.9 L372.5,1292.9 L373.4,1292.9 L374.2,1292.9 L375.2,1292.9 L376.2,1292.9 L377.3,1292.9 L378.6,1292.9 L380.0,1292.9 L381.6,1292.9 L383.4,1292.9 L385.3,1292.9 L387.3,1292.9 L389.4,1292.9 L391.5,1292.9 L393.7,1292.9 L395.8,1292.8 L398.0,1292.8 L400.0,1292.8 L402.0,1292.8 L404.0,1292.8 L406.0,1292.8 L408.0,1292.8 L410.0,1292.8 L412.0,1292.8 L414.0,1292.8 L416.0,1292.7 L418.0,1292.7 L420.0,1292.7 L422.0,1292.7 L424.0,1292.7 L426.0,1292.7 L428.0,1292.7 L430.0,1292.7 L432.0,1292.7 L434.0,1292.7 L436.0,1292.7 L438.0,1292.6 L440.0,1292.6 L442.0,1292.6 L444.0,1292.6 L446.0,1292.6 L448.0,1292.6 L450.0,1292.6 L452.0,1292.6 L454.0,1292.6 L456.0,1292.6 L458.0,1292.5 L460.0,1292.5 L462.0,1292.5 L464.0,1292.5 L466.0,1292.5 L468.0,1292.5 L470.0,1292.5 L472.0,1292.5 L474.0,1292.5 L476.0,1292.5 L478.0,1292.5 L480.0,1292.4 L482.0,1292.4 L484.0,1292.4 L486.0,1292.4 L488.0,1292.4 L490.0,1292.4 L492.0,1292.4 L494.0,1292.4 L496.0,1292.4 L498.0,1292.4 L500.0,1292.3 L502.0,1292.3 L504.0,1292.3 L506.0,1292.3 L508.0,1292.3 L510.0,1292.3 L512.0,1292.3 L514.0,1292.3 L516.0,1292.3 L518.0,1292.3 L520.0,1292.3 L522.0,1292.2 L524.0,1292.2 L526.0,1292.2 L528.0,1292.2 L530.0,1292.2 L532.0,1292.2 L534.0,1292.2 L536.0,1292.2 L538.0,1292.2 L540.0,1292.2 L542.0,1292.1 L544.0,1292.1 L546.0,1292.1 L548.0,1292.1 L550.0,1292.1 L552.0,1292.1 L554.0,1292.1 L556.0,1292.1 L558.0,1292.1 L560.0,1292.1 L562.0,1292.1 L564.0,1292.0 L566.0,1292.0 L568.0,1292.0 L570.0,1292.0 L572.0,1292.0 L574.0,1292.0 L576.0,1292.0 L578.0,1292.0 L580.0,1292.0 L582.0,1292.0 L584.0,1291.9 L586.0,1291.9 L588.0,1291.9 L590.0,1291.9 L592.0,1291.9 L594.0,1291.9 L596.0,1291.9 L598.0,1291.9 L600.0,1291.9 L602.0,1291.9 L604.0,1291.9 L606.0,1291.8 L608.0,1291.8 L610.0,1291.8 L612.0,1291.8 L614.0,1291.8 L616.0,1291.8 L618.0,1291.8 L620.0,1291.8 L622.0,1291.8 L624.0,1291.8 L626.0,1291.7 L628.0,1291.7 L630.0,1291.7 L632.0,1291.7 L634.0,1291.7 L636.0,1291.7 L638.0,1291.7 L640.0,1291.7 L642.0,1291.7 L644.0,1291.7 L646.0,1291.7 L648.0,1291.6 L650.0,1291.6 L652.0,1291.6 L654.0,1291.6 L656.0,1291.6 L658.0,1291.6 L660.0,1291.6 L662.0,1291.6 L664.0,1291.6 L666.0,1291.6 L668.0,1291.5 L670.0,1291.5 L672.0,1291.5 L674.0,1291.5 L676.0,1291.5 L678.0,1291.5 L680.0,1291.5 L682.0,1291.5 L684.0,1291.5 L686.0,1291.5 L688.0,1291.5 L690.0,1291.4 L692.0,1291.4 L694.0,1291.4 L696.0,1291.4 L698.0,1291.4 L700.0,1291.4 L702.0,1291.4 L704.0,1291.4 L706.0,1291.4 L708.0,1291.4 L710.0,1291.3 L712.0,1291.3 L714.0,1291.3 L716.0,1291.3 L718.0,1291.3 L720.0,1291.3 L722.0,1291.3 L724.0,1291.3 L726.0,1291.3 L728.0,1291.3 L730.0,1291.3 L732.0,1291.2 L734.0,1291.2 L736.0,1291.2 L738.0,1291.2 L740.0,1291.2 L742.0,1291.2 L744.0,1291.2 L746.0,1291.2 L748.0,1291.2 L750.0,1291.2 L752.0,1291.1 L754.0,1291.1 L756.0,1291.1 L758.0,1291.1 L760.0,1291.1 L762.0,1291.1 L764.0,1291.1 L766.0,1291.1 L768.0,1291.1 L770.0,1291.1 L772.0,1291.1 L774.0,1291.0 L776.0,1291.0 L778.0,1291.0 L780.0,1291.0 L782.0,1291.0 L784.2,1291.0 L786.3,1291.1 L788.5,1291.1 L790.6,1291.1 L792.7,1291.1 L794.7,1291.1 L796.6,1291.1 L798.4,1291.0 L800.0,1290.9 L801.3,1290.8 L802.4,1290.7 L803.3,1290.5 L804.0,1290.4 L804.7,1290.2 L805.4,1289.9 L806.2,1289.7 L807.2,1289.3 L808.4,1289.0 L810.0,1288.5 L811.9,1288.0 L813.2,1287.6" stroke-dasharray="33.70 23.45 0.01 23.45" stroke-dashoffset="0.0"/>
<path d="M813.2,1287.6 L814.0,1287.4 L816.4,1286.7 L818.9,1286.0 L821.6,1285.2 L824.3,1284.4 L827.0,1283.6 L829.8,1282.7 L832.4,1281.9 L835.0,1281.0 L837.5,1280.1 L840.0,1279.2 L842.6,1278.2 L845.2,1277.2 L847.7,1276.2 L850.2,1275.2 L852.7,1274.2 L855.1,1273.2 L857.4,1272.2 L859.7,1271.3 L861.8,1270.4 L863.8,1269.6 L865.6,1268.8 L867.3,1268.0 L869.1,1267.2 L870.8,1266.4 L872.7,1265.5 L874.7,1264.6 L876.8,1263.6 L879.2,1262.5 L881.9,1261.3 L884.8,1259.9 L888.0,1258.5 L891.2,1256.9 L894.6,1255.4 L897.9,1253.8 L901.2,1252.3 L904.4,1250.8 L907.3,1249.3 L910.0,1248.0 L912.2,1246.9 L913.9,1246.0 L915.2,1245.3 L916.3,1244.6 L917.5,1244.0 L918.8,1243.2 L920.5,1242.2 L922.8,1240.9 L925.8,1239.3 L929.7,1237.2 L934.6,1234.6 L940.3,1231.6 L946.7,1228.3 L953.7,1224.7 L961.0,1220.9 L968.6,1217.0 L976.2,1212.9 L983.8,1208.8 L991.2,1204.8 L998.3,1200.9 L1005.1,1197.0 L1012.0,1193.1 L1018.8,1189.1 L1025.6,1185.1 L1032.4,1181.1 L1039.2,1177.0 L1046.0,1172.9 L1052.8,1168.7 L1059.5,1164.5 L1066.2,1160.3 L1072.9,1156.1 L1079.6,1151.8 L1086.2,1147.5 L1092.9,1143.2 L1099.5,1138.8 L1106.1,1134.4 L1112.6,1130.0 L1119.2,1125.5 L1125.7,1121.0 L1132.1,1116.5 L1138.5,1111.9 L1144.9,1107.3 L1151.2,1102.6 L1157.5,1098.0 L1163.7,1093.2 L1169.9,1088.5 L1176.1,1083.7 L1182.3,1078.8 L1188.5,1074.0 L1194.7,1069.1 L1201.1,1064.0 L1207.7,1058.7 L1214.5,1053.1 L1221.4,1047.5 L1228.1,1041.9 L1234.6,1036.5 L1240.8,1031.3 L1246.4,1026.5 L1251.4,1022.2 L1255.7,1018.5 L1259.1,1015.4 L1261.6,1013.0 L1263.4,1011.0 L1264.8,1009.4 L1265.7,1008.1 L1266.6,1006.9 L1267.4,1005.7 L1268.3,1004.5 L1269.6,1003.0 L1271.4,1001.3 L1273.6,999.3 L1276.1,997.3 L1278.8,995.1 L1281.6,992.9 L1284.5,990.7 L1287.3,988.5 L1290.1,986.3 L1292.7,984.2 L1295.1,982.2 L1297.3,980.2 L1299.2,978.3 L1300.9,976.6 L1302.4,974.8 L1303.7,973.2 L1305.0,971.5 L1306.2,969.9 L1307.4,968.3 L1308.7,966.7 L1309.9,965.0 L1311.3,963.3 L1312.7,961.6 L1314.1,960.0 L1315.5,958.3 L1316.9,956.7 L1318.3,955.1 L1319.8,953.4 L1321.2,951.6 L1322.7,949.7 L1324.3,947.7 L1325.9,945.5 L1327.6,943.1 L1329.5,940.5 L1331.4,937.7 L1333.4,934.8 L1335.5,931.9 L1337.4,928.9 L1339.4,926.0 L1341.2,923.1 L1342.9,920.4 L1344.4,917.9 L1345.7,915.6 L1346.9,913.4 L1348.0,911.3 L1349.0,909.3 L1349.9,907.4 L1350.8,905.5 L1351.6,903.5 L1352.4,901.6 L1353.3,899.5 L1354.1,897.4 L1354.9,895.2 L1355.8,893.1 L1356.5,890.9 L1357.3,888.8 L1358.0,886.5 L1358.8,884.3 L1359.5,881.9 L1360.2,879.4 L1360.9,876.8 L1361.6,874.0 L1362.3,871.0 L1363.0,867.7 L1363.7,864.2 L1364.4,860.6 L1365.1,856.9 L1365.8,853.3 L1366.4,849.7 L1367.0,846.2 L1367.6,843.0 L1368.1,840.0 L1368.5,837.4 L1368.9,835.1 L1369.2,833.0 L1369.5,831.1 L1369.8,829.2 L1370.0,827.3 L1370.2,825.3 L1370.5,823.1 L1370.7,820.7 L1371.0,817.9" stroke-dasharray="33.70 22.75 0.01 22.75" stroke-dashoffset="10.0"/>
<path d="M1371.0,817.9 L1371.3,814.8 L1371.6,811.4 L1372.0,807.8 L1372.3,804.0 L1372.7,800.1 L1373.0,796.1 L1373.3,792.0 L1373.6,788.0 L1373.9,783.9 L1374.2,780.0 L1374.5,776.1 L1374.7,772.1 L1374.9,768.2 L1375.2,764.2 L1375.4,760.1 L1375.6,756.1 L1375.8,752.1 L1376.0,748.0 L1376.1,744.0 L1376.3,740.0 L1376.5,735.8 L1376.6,731.4 L1376.7,726.7 L1376.9,722.1 L1377.0,717.5 L1377.1,713.1 L1377.2,709.1 L1377.3,705.4 L1377.3,702.4 L1377.4,700.0 L1377.5,540.0 L1377.8,500.0" stroke-dasharray="33.70 23.45 0.01 23.45" stroke-dashoffset="57.1"/>
<path d="M1377.8,500.0 L1379.2,1473.0" stroke-dasharray="33.70 23.45 0.01 23.45" stroke-dashoffset="53.7"/>
<path d="M1379.2,1473.0 L1794.0,1473.0" stroke-dasharray="33.70 23.60 0.01 23.60" stroke-dashoffset="58.1"/>
<path d="M249.0,1297.8 L252.1,1297.8 L256.3,1297.8 L261.3,1297.8 L266.9,1297.8 L272.9,1297.8 L279.0,1297.8 L284.9,1297.8 L290.6,1297.8 L295.7,1297.8 L300.0,1297.8 L303.7,1297.8 L307.1,1297.8 L310.1,1297.8 L313.0,1297.8 L315.6,1297.8 L318.0,1297.9 L320.2,1297.9 L322.2,1297.8 L324.2,1297.8 L326.0,1297.8 L327.6,1297.8 L329.0,1297.7 L330.0,1297.7 L331.0,1297.6 L331.8,1297.6 L332.5,1297.5 L333.2,1297.4 L334.0,1297.3 L334.9,1297.2 L336.0,1297.1 L337.2,1296.9 L338.6,1296.8 L340.0,1296.6 L341.4,1296.4 L342.9,1296.2 L344.4,1296.0 L345.8,1295.8 L347.3,1295.6 L348.7,1295.4 L350.0,1295.2 L351.3,1295.0 L352.6,1294.8 L353.9,1294.5 L355.1,1294.3 L356.4,1294.1 L357.6,1293.9 L358.8,1293.7 L359.9,1293.6 L361.0,1293.4 L362.0,1293.3 L363.0,1293.2 L363.8,1293.1 L364.6,1293.0 L365.4,1293.0 L366.1,1293.0 L366.8,1293.0 L367.6,1292.9 L368.3,1292.9 L369.1,1292.9 L370.0,1292.9 L370.9,1292.9 L371.7,1292.9 L372.5,1292.9 L373.4,1292.9 L374.2,1292.9 L375.2,1292.9 L376.2,1292.9 L377.3,1292.9 L378.6,1292.9 L380.0,1292.9 L381.6,1292.9 L383.4,1292.9 L385.3,1292.9 L387.3,1292.9 L389.4,1292.9 L391.5,1292.9 L393.7,1292.9 L395.8,1292.8 L398.0,1292.8 L400.0,1292.8 L402.0,1292.8 L404.0,1292.8 L406.0,1292.8 L408.0,1292.8 L410.0,1292.8 L412.0,1292.8 L414.0,1292.8 L416.0,1292.7 L418.0,1292.7 L420.0,1292.7 L422.0,1292.7 L424.0,1292.7 L426.0,1292.7 L428.0,1292.7 L430.0,1292.7 L432.0,1292.7 L434.0,1292.7 L436.0,1292.7 L438.0,1292.6 L440.0,1292.6 L442.0,1292.6 L444.0,1292.6 L446.0,1292.6 L448.0,1292.6 L450.0,1292.6 L452.0,1292.6 L454.0,1292.6 L456.0,1292.6 L458.0,1292.5 L460.0,1292.5 L462.0,1292.5 L464.0,1292.5 L466.0,1292.5 L468.0,1292.5 L470.0,1292.5 L472.0,1292.5 L474.0,1292.5 L476.0,1292.5 L478.0,1292.5 L480.0,1292.4 L482.0,1292.4 L484.0,1292.4 L486.0,1292.4 L488.0,1292.4 L490.0,1292.4 L492.0,1292.4 L494.0,1292.4 L496.0,1292.4 L498.0,1292.4 L500.0,1292.3 L502.0,1292.3 L504.0,1292.3 L506.0,1292.3 L508.0,1292.3 L510.0,1292.3 L512.0,1292.3 L514.0,1292.3 L516.0,1292.3 L518.0,1292.3 L520.0,1292.3 L522.0,1292.2 L524.0,1292.2 L526.0,1292.2 L528.0,1292.2 L530.0,1292.2 L532.0,1292.2 L534.0,1292.2 L536.0,1292.2 L538.0,1292.2 L540.0,1292.2 L542.0,1292.1 L544.0,1292.1 L546.0,1292.1 L548.0,1292.1 L550.0,1292.1 L552.0,1292.1 L554.0,1292.1 L556.0,1292.1 L558.0,1292.1 L560.0,1292.1 L562.0,1292.1 L564.0,1292.0 L566.0,1292.0 L568.0,1292.0 L570.0,1292.0 L572.0,1292.0 L574.0,1292.0 L576.0,1292.0 L578.0,1292.0 L580.0,1292.0 L582.0,1292.0 L584.0,1291.9 L586.0,1291.9 L588.0,1291.9 L590.0,1291.9 L592.0,1291.9 L594.0,1291.9 L596.0,1291.9 L598.0,1291.9 L600.0,1291.9 L602.0,1291.9 L604.0,1291.9 L606.0,1291.8 L608.0,1291.8 L610.0,1291.8 L612.0,1291.8 L614.0,1291.8 L616.0,1291.8 L618.0,1291.8 L620.0,1291.8 L622.0,1291.8 L624.0,1291.8 L626.0,1291.7 L628.0,1291.7 L630.0,1291.7 L632.0,1291.7 L634.0,1291.7 L636.0,1291.7 L638.0,1291.7 L640.0,1291.7 L642.0,1291.7 L644.0,1291.7 L646.0,1291.7 L648.0,1291.6 L650.0,1291.6 L652.0,1291.6 L654.0,1291.6 L656.0,1291.6 L658.0,1291.6 L660.0,1291.6 L662.0,1291.6 L664.0,1291.6 L666.0,1291.6 L668.0,1291.5 L670.0,1291.5 L672.0,1291.5 L674.0,1291.5 L676.0,1291.5 L678.0,1291.5 L680.0,1291.5 L682.0,1291.5 L684.0,1291.5 L686.0,1291.5 L688.0,1291.5 L690.0,1291.4 L692.0,1291.4 L694.0,1291.4 L696.0,1291.4 L698.0,1291.4 L700.0,1291.4 L702.0,1291.4 L704.0,1291.4 L706.0,1291.4 L708.0,1291.4 L710.0,1291.3 L712.0,1291.3 L714.0,1291.3 L716.0,1291.3 L718.0,1291.3 L720.0,1291.3 L722.0,1291.3 L724.0,1291.3 L726.0,1291.3 L728.0,1291.3 L730.0,1291.3 L732.0,1291.2 L734.0,1291.2 L736.0,1291.2 L738.0,1291.2 L740.0,1291.2 L742.0,1291.2 L744.0,1291.2 L746.0,1291.2 L748.0,1291.2 L750.0,1291.2 L752.0,1291.1 L754.0,1291.1 L756.0,1291.1 L758.0,1291.1 L760.0,1291.1 L762.0,1291.1 L764.0,1291.1 L766.0,1291.1 L768.0,1291.1 L770.0,1291.1 L772.0,1291.1 L774.0,1291.0 L776.0,1291.0 L778.0,1291.0 L780.0,1291.0 L782.0,1291.0 L784.0,1291.0 L786.0,1291.0 L788.0,1291.0 L790.0,1291.0 L792.0,1291.0 L794.0,1290.9 L796.0,1290.9 L798.0,1290.9 L800.0,1290.9 L802.0,1290.9 L804.0,1290.9 L806.0,1290.9 L808.0,1290.9 L810.0,1290.9 L812.0,1290.9 L814.0,1290.9 L816.0,1290.8 L818.0,1290.8 L820.0,1290.8 L822.0,1290.8 L824.0,1290.8 L826.0,1290.8 L828.0,1290.8 L830.0,1290.8 L832.0,1290.8 L834.0,1290.8 L836.0,1290.7 L838.0,1290.7 L840.0,1290.7 L842.0,1290.7 L844.0,1290.7 L846.0,1290.7 L848.0,1290.7 L850.0,1290.7 L852.0,1290.7 L854.0,1290.7 L856.0,1290.7 L858.0,1290.6 L860.0,1290.6 L862.0,1290.6 L864.0,1290.6 L866.0,1290.6 L868.0,1290.6 L870.0,1290.6 L872.0,1290.6 L874.0,1290.6 L876.0,1290.6 L878.0,1290.5 L880.0,1290.5 L882.0,1290.5 L884.0,1290.5 L886.0,1290.5 L888.0,1290.5 L890.0,1290.5 L892.0,1290.5 L893.8,1290.5" stroke-dasharray="33.70 23.45 0.01 23.45" stroke-dashoffset="0.0"/>
<path d="M893.8,1290.5 L894.0,1290.5 L896.0,1290.5 L898.0,1290.5 L900.0,1290.4 L902.0,1290.4 L904.2,1290.4 L906.3,1290.4 L908.5,1290.4 L910.6,1290.4 L912.7,1290.4 L914.7,1290.4 L916.6,1290.4 L918.4,1290.4 L920.0,1290.3 L921.4,1290.3 L922.5,1290.2 L923.4,1290.2 L924.2,1290.1 L925.0,1290.1 L925.7,1290.0 L926.6,1289.9 L927.5,1289.7 L928.6,1289.6 L930.0,1289.4 L931.6,1289.2 L933.4,1288.9 L935.3,1288.7 L937.3,1288.4 L939.5,1288.0 L941.6,1287.7 L943.8,1287.4 L946.0,1287.0 L948.2,1286.7 L950.3,1286.3 L952.3,1286.0 L954.2,1285.6 L956.1,1285.3 L958.0,1285.0 L959.9,1284.6 L961.9,1284.3 L964.0,1283.9 L966.2,1283.4 L968.7,1282.9 L971.4,1282.3 L974.5,1281.6 L977.9,1280.9 L981.5,1280.0 L985.4,1279.1 L989.4,1278.2 L993.3,1277.3 L997.1,1276.4 L1000.8,1275.5 L1004.1,1274.7 L1007.1,1273.9 L1009.7,1273.2 L1012.0,1272.6 L1014.1,1272.0 L1016.0,1271.5 L1017.8,1271.0 L1019.5,1270.4 L1021.1,1269.9 L1022.9,1269.3 L1024.7,1268.7 L1026.6,1268.1 L1028.6,1267.4 L1030.5,1266.8 L1032.4,1266.1 L1034.3,1265.4 L1036.2,1264.6 L1038.2,1263.9 L1040.4,1263.1 L1042.6,1262.2 L1045.1,1261.3 L1047.7,1260.3 L1050.6,1259.2 L1053.9,1257.9 L1057.4,1256.6 L1061.1,1255.2 L1064.8,1253.8 L1068.5,1252.4 L1072.2,1251.0 L1075.7,1249.6 L1078.9,1248.4 L1081.8,1247.3 L1084.4,1246.3 L1086.7,1245.5 L1088.8,1244.7 L1090.8,1244.0 L1092.7,1243.3 L1094.5,1242.7 L1096.3,1242.0 L1098.1,1241.4 L1099.9,1240.6 L1101.9,1239.8 L1103.9,1238.9 L1105.7,1238.1 L1107.6,1237.2 L1109.4,1236.2 L1111.2,1235.3 L1113.1,1234.3 L1115.2,1233.3 L1117.3,1232.3 L1119.7,1231.2 L1122.3,1230.1 L1125.2,1228.9 L1128.5,1227.7 L1132.0,1226.3 L1135.7,1225.0 L1139.4,1223.6 L1143.2,1222.2 L1146.8,1220.8 L1150.3,1219.5 L1153.5,1218.3 L1156.4,1217.1 L1158.9,1216.0 L1161.2,1215.0 L1163.3,1214.0 L1165.3,1213.1 L1167.1,1212.2 L1168.8,1211.3 L1170.5,1210.5 L1172.2,1209.6 L1174.0,1208.7 L1175.9,1207.7 L1177.8,1206.7 L1179.6,1205.8 L1181.3,1204.9 L1183.0,1203.9 L1184.7,1203.0 L1186.6,1202.0 L1188.5,1201.0 L1190.6,1199.9 L1192.9,1198.8 L1195.4,1197.6 L1198.3,1196.3 L1201.5,1194.9 L1205.0,1193.4 L1208.7,1191.9 L1212.4,1190.3 L1216.1,1188.7 L1219.8,1187.2 L1223.3,1185.7 L1226.5,1184.3 L1229.4,1183.0 L1231.9,1181.8 L1234.2,1180.7 L1236.3,1179.7 L1238.2,1178.7 L1240.1,1177.7 L1241.8,1176.8 L1243.5,1175.9 L1245.2,1174.9 L1247.0,1174.0 L1248.9,1173.0 L1250.8,1172.0 L1252.6,1171.1 L1254.3,1170.2 L1256.1,1169.2 L1257.9,1168.3 L1259.7,1167.3 L1261.6,1166.3 L1263.7,1165.3 L1265.9,1164.1 L1268.4,1162.9 L1271.2,1161.5 L1274.2,1160.1 L1277.5,1158.5 L1280.9,1156.8 L1284.4,1155.2 L1288.0,1153.5 L1291.4,1151.8 L1294.7,1150.2 L1297.8,1148.7 L1300.6,1147.3 L1302.9,1146.1 L1304.6,1145.2 L1306.0,1144.5 L1307.2,1143.8 L1308.4,1143.1 L1309.8,1142.4 L1311.6,1141.3 L1313.9,1140.0 L1317.0,1138.3 L1321.0,1136.0 L1326.0,1133.2 L1331.9,1129.9 L1338.4,1126.3 L1345.6,1122.4 L1353.1,1118.2 L1360.8,1113.8 L1368.6,1109.4 L1376.4,1105.0 L1383.9,1100.6 L1391.1,1096.4 L1398.0,1092.3 L1404.9,1088.1 L1411.7,1083.9 L1418.6,1079.6 L1425.4,1075.3 L1432.2,1071.0 L1439.0,1066.7 L1445.8,1062.3 L1452.5,1057.9 L1459.3,1053.5 L1466.1,1049.1 L1472.8,1044.7 L1479.6,1040.3 L1486.4,1035.8 L1493.1,1031.4 L1499.8,1026.8 L1506.5,1022.3 L1513.1,1017.6 L1519.6,1012.9 L1526.1,1008.1 L1532.6,1003.2 L1539.0,998.4 L1545.5,993.4 L1552.0,988.5 L1558.3,983.4 L1564.6,978.3 L1570.7,973.0 L1576.6,967.6 L1582.3,962.0 L1587.8,956.2 L1593.1,950.0 L1598.4,943.2 L1603.6,936.1 L1608.7,928.7 L1613.5,921.4 L1618.1,914.2 L1622.3,907.3 L1626.1,900.9 L1629.5,895.2 L1632.3,890.3 L1634.5,886.4 L1636.0,883.3 L1637.1,880.8 L1637.7,878.9 L1638.0,877.3 L1638.1,875.8 L1638.1,874.3 L1638.2,872.7 L1638.4,870.7 L1638.9,868.2 L1639.6,865.2 L1640.3,862.0 L1641.0,858.5 L1641.7,854.9 L1642.4,851.2 L1643.1,847.5 L1643.7,843.9 L1644.4,840.4 L1644.9,837.1 L1645.4,834.1 L1645.8,831.4 L1646.1,829.0 L1646.4,826.9 L1646.7,824.9 L1646.9,822.9 L1647.0,820.9 L1647.2,818.9 L1647.4,816.6 L1647.6,814.2 L1647.9,811.4" stroke-dasharray="33.70 23.50 0.01 23.50" stroke-dashoffset="2.4"/>
<path d="M1647.9,811.4 L1648.2,808.3 L1648.5,805.0 L1648.8,801.4 L1649.1,797.8 L1649.5,794.0 L1649.8,790.1 L1650.1,786.2 L1650.4,782.4 L1650.7,778.6 L1651.0,775.0 L1651.3,771.5 L1651.5,768.0 L1651.8,764.6 L1652.0,761.1 L1652.2,757.7 L1652.4,754.3 L1652.6,750.8 L1652.8,747.3 L1653.0,743.7 L1653.2,740.0 L1653.4,736.0 L1653.5,731.7 L1653.7,727.1 L1653.8,722.4 L1653.9,717.8 L1654.1,713.4 L1654.2,709.2 L1654.3,705.5 L1654.3,702.4 L1654.4,700.0 L1654.3,552.5 L1654.6,512.5" stroke-dasharray="33.70 23.45 0.01 23.45" stroke-dashoffset="57.1"/>
<path d="M1654.6,512.5 L1657.6,1473.0" stroke-dasharray="33.70 23.45 0.01 23.45" stroke-dashoffset="37.8"/>
<path d="M1657.6,1473.0 L1794.0,1473.0" stroke-dasharray="33.70 23.60 0.01 23.60" stroke-dashoffset="33.1"/>
</g>
</svg>
<rect x="246.0" y="370" width="1551.0" height="5" fill="#231815"/>
<rect x="246.0" y="1508" width="1551.0" height="5.8" fill="#231815"/>
<path d="M310.5,1510.9 V1494.8000000000002 M372.5,1510.9 V1494.8000000000002 M434.5,1510.9 V1494.8000000000002 M495.5,1510.9 V1494.8000000000002 M619.5,1510.9 V1494.8000000000002 M681.5,1510.9 V1494.8000000000002 M743.5,1510.9 V1494.8000000000002 M804.5,1510.9 V1494.8000000000002 M928.5,1510.9 V1494.8000000000002 M990.5,1510.9 V1494.8000000000002 M1052.5,1510.9 V1494.8000000000002 M1113.5,1510.9 V1494.8000000000002 M1237.5,1510.9 V1494.8000000000002 M1299.5,1510.9 V1494.8000000000002 M1361.5,1510.9 V1494.8000000000002 M1422.5,1510.9 V1494.8000000000002 M1546.5,1510.9 V1494.8000000000002 M1608.5,1510.9 V1494.8000000000002 M1670.5,1510.9 V1494.8000000000002 M1731.5,1510.9 V1494.8000000000002" stroke="#231815" stroke-width="1.15" fill="none"/>
<path d="M558.0,1509.9 V1484.1000000000001 M867.0,1509.9 V1484.1000000000001 M1176.0,1509.9 V1484.1000000000001 M1485.0,1509.9 V1484.1000000000001" stroke="#231815" stroke-width="5.9" stroke-linecap="round" fill="none" shape-rendering="crispEdges"/>
<path d="M249.0,1478.5 H265.9 M249.0,1445.5 H265.9 M249.0,1413.5 H265.9 M249.0,1380.5 H265.9 M249.0,1315.5 H265.9 M249.0,1283.5 H265.9 M249.0,1250.5 H265.9 M249.0,1218.5 H265.9 M249.0,1153.5 H265.9 M249.0,1120.5 H265.9 M249.0,1088.5 H265.9 M249.0,1055.5 H265.9 M249.0,990.5 H265.9 M249.0,958.5 H265.9 M249.0,925.5 H265.9 M249.0,892.5 H265.9 M249.0,827.5 H265.9 M249.0,795.5 H265.9 M249.0,762.5 H265.9 M249.0,730.5 H265.9 M249.0,665.5 H265.9 M249.0,632.5 H265.9 M249.0,600.5 H265.9 M249.0,567.5 H265.9 M249.0,502.5 H265.9 M249.0,470.5 H265.9 M249.0,437.5 H265.9 M249.0,405.5 H265.9" stroke="#c4161c" stroke-width="1.15" fill="none"/>
<path d="M250.0,1348.3 H276.0 M250.0,1185.7 H276.0 M250.0,1023.1 H276.0 M250.0,860.4 H276.0 M250.0,697.8 H276.0 M250.0,535.2 H276.0" stroke="#c4161c" stroke-width="6" stroke-linecap="round" fill="none" shape-rendering="crispEdges"/>
<path d="M249.0,370 V1513.8" stroke="#c4161c" stroke-width="6.0" fill="none"/>
<rect x="246.0" y="370" width="33" height="5" fill="#c4161c"/>
<rect x="246.0" y="1508" width="33" height="5.8" fill="#c4161c"/>
<path d="M1794.0,1472.5 H1776.9 M1794.0,1435.5 H1776.9 M1794.0,1397.5 H1776.9 M1794.0,1359.5 H1776.9 M1794.0,1283.5 H1776.9 M1794.0,1245.5 H1776.9 M1794.0,1207.5 H1776.9 M1794.0,1169.5 H1776.9 M1794.0,1093.5 H1776.9 M1794.0,1055.5 H1776.9 M1794.0,1017.5 H1776.9 M1794.0,979.5 H1776.9 M1794.0,903.5 H1776.9 M1794.0,865.5 H1776.9 M1794.0,827.5 H1776.9 M1794.0,789.5 H1776.9 M1794.0,714.5 H1776.9 M1794.0,676.5 H1776.9 M1794.0,638.5 H1776.9 M1794.0,600.5 H1776.9 M1794.0,524.5 H1776.9 M1794.0,486.5 H1776.9 M1794.0,448.5 H1776.9 M1794.0,410.5 H1776.9" stroke="#0000ff" stroke-width="1.15" fill="none"/>
<path d="M1793.0,1321.2 H1766.9 M1793.0,1131.5 H1766.9 M1793.0,941.8 H1766.9 M1793.0,752.0 H1766.9 M1793.0,562.3 H1766.9" stroke="#0000ff" stroke-width="6" stroke-linecap="round" fill="none" shape-rendering="crispEdges"/>
<path d="M1794.0,370 V1513.8" stroke="#0000ff" stroke-width="6.0" fill="none"/>
<rect x="1764.0" y="370" width="33" height="5" fill="#0000ff"/>
<rect x="1764.8" y="1508" width="32.2" height="5.8" fill="#0000ff"/>
<rect x="243.3" y="79.6" width="158.7" height="141.4" fill="#e61f19"/>
<rect x="402" y="79.6" width="1390.0" height="141.4" fill="#0000ff"/>
<text font-family='"Liberation Sans", Arial, Helvetica, sans-serif' font-weight="700" fill="#e61f19"><tspan x="244.78" y="53.90" font-size="68.46" textLength="45.57" lengthAdjust="spacingAndGlyphs">H</tspan><tspan x="291.16" y="54.27" font-size="64.25" textLength="216.53" lengthAdjust="spacingAndGlyphs">ot spot</tspan></text>
<text font-family='"Liberation Sans", Arial, Helvetica, sans-serif' font-weight="700" fill="#ffffff"><tspan x="706.62" y="172.10" font-size="68.90" textLength="45.67" lengthAdjust="spacingAndGlyphs">K</tspan><tspan x="752.57" y="172.45" font-size="66.44" textLength="597.64" lengthAdjust="spacingAndGlyphs">erosene/air mixture</tspan></text>
<text font-family='"Liberation Serif", "Times New Roman", Times, serif' font-weight="700" fill="#000000"><tspan x="965.09" y="305.45" font-size="78.69" textLength="95.71" lengthAdjust="spacingAndGlyphs">(a)</tspan></text>
<text font-family='"Liberation Serif", "Times New Roman", Times, serif' font-weight="700" fill="#000000"><tspan x="978.33" y="1754.46" font-size="78.63" textLength="99.34" lengthAdjust="spacingAndGlyphs">(b)</tspan></text>
<text x="194.69" y="1528.65" font-family='"Liberation Sans", Arial, Helvetica, sans-serif' font-weight="700" font-size="55.4" textLength="29.70" lengthAdjust="spacingAndGlyphs" fill="#c4161c">0</text>
<text x="135.29" y="1366.04" font-family='"Liberation Sans", Arial, Helvetica, sans-serif' font-weight="700" font-size="55.4" textLength="89.10" lengthAdjust="spacingAndGlyphs" fill="#c4161c">500</text>
<text x="105.58" y="1203.42" font-family='"Liberation Sans", Arial, Helvetica, sans-serif' font-weight="700" font-size="55.4" textLength="118.81" lengthAdjust="spacingAndGlyphs" fill="#c4161c">1000</text>
<text x="105.58" y="1040.81" font-family='"Liberation Sans", Arial, Helvetica, sans-serif' font-weight="700" font-size="55.4" textLength="118.81" lengthAdjust="spacingAndGlyphs" fill="#c4161c">1500</text>
<text x="105.58" y="878.19" font-family='"Liberation Sans", Arial, Helvetica, sans-serif' font-weight="700" font-size="55.4" textLength="118.81" lengthAdjust="spacingAndGlyphs" fill="#c4161c">2000</text>
<text x="105.58" y="715.58" font-family='"Liberation Sans", Arial, Helvetica, sans-serif' font-weight="700" font-size="55.4" textLength="118.81" lengthAdjust="spacingAndGlyphs" fill="#c4161c">2500</text>
<text x="105.58" y="552.96" font-family='"Liberation Sans", Arial, Helvetica, sans-serif' font-weight="700" font-size="55.4" textLength="118.81" lengthAdjust="spacingAndGlyphs" fill="#c4161c">3000</text>
<text x="105.58" y="390.35" font-family='"Liberation Sans", Arial, Helvetica, sans-serif' font-weight="700" font-size="55.4" textLength="118.81" lengthAdjust="spacingAndGlyphs" fill="#c4161c">3500</text>
<text x="1816.79" y="1528.65" font-family='"Liberation Sans", Arial, Helvetica, sans-serif' font-weight="700" font-size="55.4" textLength="29.70" lengthAdjust="spacingAndGlyphs" fill="#0000ff">0</text>
<text x="1817.26" y="1338.93" font-family='"Liberation Sans", Arial, Helvetica, sans-serif' font-weight="700" font-size="55.4" textLength="29.70" lengthAdjust="spacingAndGlyphs" fill="#0000ff">5</text>
<text x="1815.54" y="1149.22" font-family='"Liberation Sans", Arial, Helvetica, sans-serif' font-weight="700" font-size="55.4" textLength="59.40" lengthAdjust="spacingAndGlyphs" fill="#0000ff">10</text>
<text x="1815.54" y="959.50" font-family='"Liberation Sans", Arial, Helvetica, sans-serif' font-weight="700" font-size="55.4" textLength="59.40" lengthAdjust="spacingAndGlyphs" fill="#0000ff">15</text>
<text x="1817.05" y="769.78" font-family='"Liberation Sans", Arial, Helvetica, sans-serif' font-weight="700" font-size="55.4" textLength="59.40" lengthAdjust="spacingAndGlyphs" fill="#0000ff">20</text>
<text x="1817.05" y="580.07" font-family='"Liberation Sans", Arial, Helvetica, sans-serif' font-weight="700" font-size="55.4" textLength="59.40" lengthAdjust="spacingAndGlyphs" fill="#0000ff">25</text>
<text x="1817.67" y="390.35" font-family='"Liberation Sans", Arial, Helvetica, sans-serif' font-weight="700" font-size="55.4" textLength="59.40" lengthAdjust="spacingAndGlyphs" fill="#0000ff">30</text>
<text x="233.89" y="1573.50" font-family='"Liberation Sans", Arial, Helvetica, sans-serif' font-weight="700" font-size="55.4" textLength="29.70" lengthAdjust="spacingAndGlyphs" fill="#231815">0</text>
<text x="520.27" y="1573.50" font-family='"Liberation Sans", Arial, Helvetica, sans-serif' font-weight="700" font-size="55.4" textLength="74.24" lengthAdjust="spacingAndGlyphs" fill="#231815">0.1</text>
<text x="829.59" y="1573.50" font-family='"Liberation Sans", Arial, Helvetica, sans-serif' font-weight="700" font-size="55.4" textLength="74.24" lengthAdjust="spacingAndGlyphs" fill="#231815">0.2</text>
<text x="1138.49" y="1573.50" font-family='"Liberation Sans", Arial, Helvetica, sans-serif' font-weight="700" font-size="55.4" textLength="74.24" lengthAdjust="spacingAndGlyphs" fill="#231815">0.3</text>
<text x="1446.67" y="1573.50" font-family='"Liberation Sans", Arial, Helvetica, sans-serif' font-weight="700" font-size="55.4" textLength="74.24" lengthAdjust="spacingAndGlyphs" fill="#231815">0.4</text>
<text x="1756.27" y="1573.50" font-family='"Liberation Sans", Arial, Helvetica, sans-serif' font-weight="700" font-size="55.4" textLength="74.24" lengthAdjust="spacingAndGlyphs" fill="#231815">0.5</text>
<text font-family='"Liberation Sans", Arial, Helvetica, sans-serif' font-weight="700" fill="#231815"><tspan x="919.49" y="1645.84" font-size="62.63" textLength="39.03" lengthAdjust="spacingAndGlyphs">X</tspan><tspan x="961.25" y="1645.23" font-size="58.63" textLength="32.90" lengthAdjust="spacingAndGlyphs"> (</tspan><tspan x="996.87" y="1645.84" font-size="59.68" textLength="105.92" lengthAdjust="spacingAndGlyphs">mm</tspan><tspan x="1105.75" y="1645.23" font-size="58.63" textLength="17.82" lengthAdjust="spacingAndGlyphs">)</tspan></text>
<text transform="rotate(-90)" font-family='"Liberation Sans", Arial, Helvetica, sans-serif' font-weight="700" fill="#c4161c"><tspan x="-1175.95" y="62.15" font-size="62.86" textLength="35.48" lengthAdjust="spacingAndGlyphs">T</tspan><tspan x="-1139.06" y="62.70" font-size="61.15" textLength="329.63" lengthAdjust="spacingAndGlyphs">emperature</tspan><tspan x="-805.95" y="61.89" font-size="59.33" textLength="31.60" lengthAdjust="spacingAndGlyphs"> (</tspan><tspan x="-771.82" y="62.15" font-size="62.86" textLength="42.37" lengthAdjust="spacingAndGlyphs">K</tspan><tspan x="-725.75" y="61.89" font-size="59.33" textLength="17.23" lengthAdjust="spacingAndGlyphs">)</tspan></text>
<text transform="rotate(-90)" font-family='"Liberation Sans", Arial, Helvetica, sans-serif' font-weight="700" fill="#0000ff"><tspan x="-1154.99" y="1952.00" font-size="62.65" textLength="38.78" lengthAdjust="spacingAndGlyphs">P</tspan><tspan x="-1113.18" y="1952.61" font-size="60.78" textLength="218.25" lengthAdjust="spacingAndGlyphs">ressure</tspan><tspan x="-893.09" y="1951.66" font-size="59.00" textLength="33.55" lengthAdjust="spacingAndGlyphs"> (</tspan><tspan x="-858.17" y="1952.61" font-size="60.78" textLength="107.20" lengthAdjust="spacingAndGlyphs">atm</tspan><tspan x="-747.75" y="1951.66" font-size="59.00" textLength="17.46" lengthAdjust="spacingAndGlyphs">)</tspan></text>
<text font-family='"Liberation Sans", Arial, Helvetica, sans-serif' font-weight="700" fill="#231815"><tspan x="469.91" y="451.49" font-size="68.06" textLength="71.89" lengthAdjust="spacingAndGlyphs">50</tspan><tspan x="542.61" y="450.74" font-size="63.97" textLength="74.28" lengthAdjust="spacingAndGlyphs">µs</tspan></text>
<text font-family='"Liberation Sans", Arial, Helvetica, sans-serif' font-weight="700" fill="#231815"><tspan x="733.96" y="451.49" font-size="68.06" textLength="107.07" lengthAdjust="spacingAndGlyphs">100</tspan><tspan x="841.94" y="450.74" font-size="63.97" textLength="73.73" lengthAdjust="spacingAndGlyphs">µs</tspan></text>
<text font-family='"Liberation Sans", Arial, Helvetica, sans-serif' font-weight="700" fill="#231815"><tspan x="1017.78" y="451.49" font-size="68.06" textLength="109.21" lengthAdjust="spacingAndGlyphs">150</tspan><tspan x="1127.91" y="450.74" font-size="63.97" textLength="74.28" lengthAdjust="spacingAndGlyphs">µs</tspan></text>
<text font-family='"Liberation Sans", Arial, Helvetica, sans-serif' font-weight="700" fill="#231815"><tspan x="1294.08" y="451.49" font-size="68.06" textLength="106.85" lengthAdjust="spacingAndGlyphs">200</tspan><tspan x="1401.91" y="450.74" font-size="63.97" textLength="74.28" lengthAdjust="spacingAndGlyphs">µs</tspan></text>
<text font-family='"Liberation Sans", Arial, Helvetica, sans-serif' font-weight="700" fill="#231815"><tspan x="1558.88" y="451.49" font-size="68.06" textLength="106.95" lengthAdjust="spacingAndGlyphs">250</tspan><tspan x="1666.88" y="450.74" font-size="63.97" textLength="74.83" lengthAdjust="spacingAndGlyphs">µs</tspan></text>
</svg>
</body>
</html>
